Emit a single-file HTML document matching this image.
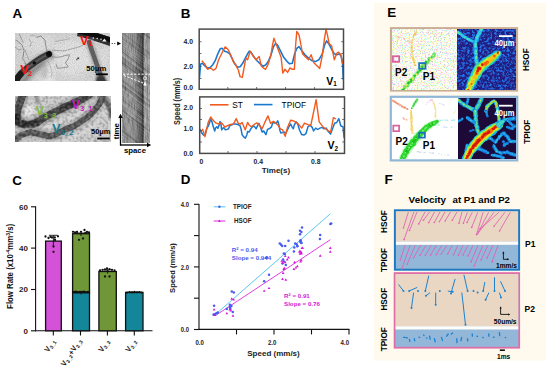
<!DOCTYPE html>
<html><head><meta charset="utf-8"><title>Figure</title>
<style>
html,body{margin:0;padding:0;background:#fff;width:550px;height:372px;overflow:hidden;font-family:"Liberation Sans",sans-serif;}
svg{display:block}
</style></head><body>
<svg width="550" height="372" viewBox="0 0 550 372">
<rect width="550" height="372" fill="#fff"/>

<defs>
  <filter id="gnoise" x="0" y="0" width="100%" height="100%">
    <feTurbulence type="fractalNoise" baseFrequency="0.9" numOctaves="2" seed="3" result="t"/>
    <feColorMatrix in="t" type="matrix" values="0 0 0 0 0  0 0 0 0 0  0 0 0 0 0  0 0 0 -1.2 0.75" />
  </filter>
  <filter id="gnoise2" x="0" y="0" width="100%" height="100%">
    <feTurbulence type="fractalNoise" baseFrequency="0.35" numOctaves="1" seed="8" result="t"/>
    <feColorMatrix in="t" type="matrix" values="0 0 0 0 1  0 0 0 0 1  0 0 0 0 1  0 0 0 -2.2 1.2" result="w"/>
    <feColorMatrix in="t" type="matrix" values="0 0 0 0 0  0 0 0 0 0  0 0 0 0 0  0 0 0 2.2 -1.0" result="k"/>
    <feMerge><feMergeNode in="w"/><feMergeNode in="k"/></feMerge>
    <feGaussianBlur stdDeviation="0.6"/>
  </filter>
  <filter id="b05" filterUnits="userSpaceOnUse" x="0" y="0" width="550" height="372"><feGaussianBlur stdDeviation="0.5"/></filter>
  <filter id="b1" filterUnits="userSpaceOnUse" x="0" y="0" width="550" height="372"><feGaussianBlur stdDeviation="1"/></filter>
  <filter id="b2" filterUnits="userSpaceOnUse" x="0" y="0" width="550" height="372"><feGaussianBlur stdDeviation="2"/></filter>
  <filter id="b3" filterUnits="userSpaceOnUse" x="0" y="0" width="550" height="372"><feGaussianBlur stdDeviation="3"/></filter>
  <filter id="kymo" x="0" y="0" width="100%" height="100%">
    <feTurbulence type="fractalNoise" baseFrequency="0.9 0.12" numOctaves="2" seed="5" result="t"/>
    <feColorMatrix in="t" type="matrix" values="0 0 0 0 0  0 0 0 0 0  0 0 0 0 0  0 0 0 -1.6 0.95" />
  </filter>
  <filter id="pastel" x="0" y="0" width="100%" height="100%" color-interpolation-filters="sRGB">
    <feTurbulence type="fractalNoise" baseFrequency="0.75" numOctaves="1" seed="11" result="t"/>
    <feColorMatrix type="matrix" values="4 0 0 0 -1.5  0 4 0 0 -1.5  0 0 4 0 -1.5  0 0 0 0 1"/>
    <feComponentTransfer>
      <feFuncR type="discrete" tableValues="0.8 0.93 1 1 1 1 1 1 1 1"/>
      <feFuncG type="discrete" tableValues="1 1 1 1 1 1 1 1 0.93 0.82"/>
      <feFuncB type="discrete" tableValues="0.75 0.92 1 1 1 1 1 1 1 0.85"/>
    </feComponentTransfer>
  </filter>
  <filter id="bluenoise" x="0" y="0" width="100%" height="100%" color-interpolation-filters="sRGB">
    <feTurbulence type="fractalNoise" baseFrequency="0.4" numOctaves="2" seed="21" result="t"/>
    <feColorMatrix in="t" type="matrix" values="0 0 0 0 0.13  0 0 0 0 0.45  0 0 0 0 0.93  4 0 0 0 -1.8" result="a"/>
    <feTurbulence type="fractalNoise" baseFrequency="0.5" numOctaves="1" seed="33" result="t2"/>
    <feColorMatrix in="t2" type="matrix" values="0 0 0 0 0.2  0 0 0 0 0.7  0 0 0 0 0.98  0 4 0 0 -2.6" result="b"/>
    <feMerge><feMergeNode in="a"/><feMergeNode in="b"/></feMerge>
  </filter>
  <clipPath id="cA1"><rect x="15" y="33" width="95" height="48"/></clipPath>
  <clipPath id="cA2"><rect x="15" y="96" width="96" height="46"/></clipPath>
  <clipPath id="cK"><rect x="122" y="33" width="28" height="110"/></clipPath>
  <clipPath id="cE1L"><rect x="392" y="29" width="65" height="61"/></clipPath>
  <clipPath id="cE1R"><rect x="457" y="29" width="59" height="61"/></clipPath>
  <clipPath id="cE2L"><rect x="392" y="98" width="66" height="61"/></clipPath>
  <clipPath id="cE2R"><rect x="458" y="98" width="58" height="61"/></clipPath>
  <clipPath id="cB1"><rect x="199" y="28.5" width="145" height="61"/></clipPath>
  <clipPath id="cB2"><rect x="199.5" y="96.5" width="145" height="57"/></clipPath>
</defs>

<text x="12.6" y="17.6" font-size="13.4" font-weight="bold" font-family="'Liberation Sans', sans-serif">A</text>
<text x="180.8" y="17.5" font-size="13.4" font-weight="bold" font-family="'Liberation Sans', sans-serif">B</text>
<text x="12.2" y="184.5" font-size="13.4" font-weight="bold" font-family="'Liberation Sans', sans-serif">C</text>
<text x="180.8" y="184.0" font-size="13.4" font-weight="bold" font-family="'Liberation Sans', sans-serif">D</text>
<g clip-path="url(#cA1)">
<rect x="15" y="33" width="95" height="48" fill="#d6d6d6"/>
<ellipse cx="72" cy="58" rx="20" ry="18" fill="#e4e4e4" filter="url(#b3)"/>
<ellipse cx="38" cy="44" rx="18" ry="9" fill="#e0e0e0" filter="url(#b3)"/>
<ellipse cx="104" cy="58" rx="5" ry="12" fill="#e0e0e0" filter="url(#b2)"/>
<ellipse cx="46" cy="80" rx="6" ry="4" fill="#f4f4f4" filter="url(#b2)"/>
<path d="M17,88 L24,78 L32,69 L40,62.5 L48,58" stroke="#8c8c8c" stroke-width="10" fill="none" stroke-linecap="round" filter="url(#b2)"/>
<path d="M15,84 L20,77 L28,68.5 L35,63 L42,58 L49,54.5" stroke="#a0a0a0" stroke-width="8" fill="none" stroke-linecap="round" filter="url(#b1)"/>
<path d="M49,57 L46,68 L44,80" stroke="#b8b8b8" stroke-width="4" fill="none" filter="url(#b2)"/>
<path d="M50,60 L51,70 L51,82" stroke="#ececec" stroke-width="5" fill="none" filter="url(#b2)"/>
<path d="M14,86 L17.4,78 L22,72.5 L28,67.5 L34.1,62.9 L41,58.3 L48.9,54.1" stroke="#3a3a3a" stroke-width="6.5" fill="none" stroke-linecap="round" filter="url(#b05)"/>
<path d="M22,72.5 L28,67.5 L34.1,62.9 L41,58.3 L46,55.5" stroke="#5a5a5a" stroke-width="2.2" fill="none" stroke-linecap="round" filter="url(#b05)"/>
<path d="M13,87 L17,79 L20.5,74" stroke="#1c1c1c" stroke-width="6" fill="none" stroke-linecap="round" filter="url(#b05)"/>
<circle cx="48.9" cy="54.1" r="2.8" fill="#0a0a0a" filter="url(#b05)"/>
<circle cx="34.3" cy="62.9" r="1.7" fill="#111" filter="url(#b05)"/>
<path d="M16,40 L22,44.8 L24,50.8 L22.7,58.8 L24.7,61.5 L26,66" stroke="#666" stroke-width="0.8" fill="none" opacity="0.80" filter="url(#b05)"/>
<path d="M19.4,34 L21,38 L23.4,42.7" stroke="#666" stroke-width="0.8" fill="none" opacity="0.60" filter="url(#b05)"/>
<path d="M28.8,38.7 L31.4,42.7 L30,47" stroke="#666" stroke-width="0.8" fill="none" opacity="0.50" filter="url(#b05)"/>
<path d="M36.8,37.4 L40.8,36 L44.9,40 L46.2,48.1 L47.6,52.1" stroke="#666" stroke-width="0.8" fill="none" opacity="0.80" filter="url(#b05)"/>
<path d="M24.7,49.4 L27.4,56.2 L29,60" stroke="#666" stroke-width="0.8" fill="none" opacity="0.50" filter="url(#b05)"/>
<path d="M15,47 L19,50 L22,49" stroke="#666" stroke-width="0.8" fill="none" opacity="0.50" filter="url(#b05)"/>
<path d="M52,56.8 L57,57.2 L61.4,56.8 L65,55.5 L69.5,54.8 L68.2,58.8 L65.5,62.9 L68.2,66.9 L63,67.8 L57.4,68.2 L56.1,64.2" stroke="#666" stroke-width="0.8" fill="none" opacity="0.75" filter="url(#b05)"/>
<path d="M52,50.1 L58,50.6 L64.1,50.8 L69,49.5 L74.9,48.1 L82.9,45.4" stroke="#666" stroke-width="0.8" fill="none" opacity="0.55" filter="url(#b05)"/>
<path d="M54.7,41.4 L60,40.5 L64.1,40 L70,38.5" stroke="#666" stroke-width="0.8" fill="none" opacity="0.40" filter="url(#b05)"/>
<path d="M47,60 L50,65 L52,72 L51,78" stroke="#666" stroke-width="0.8" fill="none" opacity="0.40" filter="url(#b05)"/>
<path d="M30,36 L34,35 L37,37" stroke="#666" stroke-width="0.8" fill="none" opacity="0.40" filter="url(#b05)"/>
<circle cx="78.2" cy="58.2" r="1" fill="#444" filter="url(#b05)"/>
<circle cx="76.9" cy="59.5" r="0.7" fill="#555" filter="url(#b05)"/>
<path d="M78,32 L90,35.2 L100,38.2 L112,42.2" stroke="#333" stroke-width="8.5" fill="none" filter="url(#b05)"/>
<path d="M78,31 L90,33.8 L100,36.6 L112,40.4" stroke="#111" stroke-width="5" fill="none" filter="url(#b05)"/>
<path d="M88.5,40 L91,48 L94.5,58 L98,68 L101,76 L103,84" stroke="#b4b4b4" stroke-width="7.5" fill="none" filter="url(#b1)"/>
<path d="M88.5,40 L91,48 L94.5,58 L98,68 L101,76 L103,84" stroke="#626262" stroke-width="4.6" fill="none" filter="url(#b05)"/>
<path d="M97,76 L104,76 L108,84 L95,84 Z" fill="#383838" filter="url(#b1)"/>
<circle cx="93.3" cy="37.9" r="0.75" fill="#fff"/>
<circle cx="97.2" cy="38.6" r="0.75" fill="#fff"/>
<circle cx="101.0" cy="39.3" r="0.75" fill="#fff"/>
<path d="M102.2,41.6 L106.6,41.6 L104.4,38.4 Z" fill="#fff"/>
<rect x="15" y="33" width="95" height="48" filter="url(#gnoise)" opacity="0.22"/>
</g>
<text x="80.1" y="44.7" font-size="12.5" font-weight="bold" fill="#ff1010" font-family="'Liberation Sans', sans-serif">V</text>
<text x="88.4" y="46.0" font-size="7.2" font-weight="bold" fill="#ff1010" font-family="'Liberation Sans', sans-serif">1</text>
<text x="20.3" y="73.9" font-size="12.5" font-weight="bold" fill="#ff1010" font-family="'Liberation Sans', sans-serif">V</text>
<text x="28.1" y="75.8" font-size="7.2" font-weight="bold" fill="#ff1010" font-family="'Liberation Sans', sans-serif">2</text>
<text x="86.2" y="71.4" font-size="8" font-weight="bold" fill="#000" textLength="20" lengthAdjust="spacingAndGlyphs" font-family="'Liberation Sans', sans-serif">50μm</text>
<rect x="95.8" y="73.4" width="12" height="1.8" fill="#000"/>
<circle cx="112.2" cy="43.5" r="0.55" fill="#000"/>
<circle cx="114.8" cy="43.5" r="0.55" fill="#000"/>
<path d="M117.2,41.4 L121,43.5 L117.2,45.6 Z" fill="#000"/>
<g clip-path="url(#cA2)">
<rect x="15" y="96" width="96" height="46" fill="#cdcdcd"/>
<ellipse cx="28" cy="111" rx="6.5" ry="6.5" fill="#ececec" filter="url(#b2)"/>
<ellipse cx="45" cy="100" rx="10" ry="3.5" fill="#d0d0d0" filter="url(#b2)"/>
<path d="M30,129 L45,127 L60,122 L75,115 L88,105 L95,97" stroke="#dcdcdc" stroke-width="5" fill="none" filter="url(#b2)"/>
<path d="M60,142 L75,136 L88,128 L98,118 L104,108" stroke="#d6d6d6" stroke-width="7" fill="none" filter="url(#b2)"/>
<ellipse cx="30" cy="141.5" rx="14" ry="2" fill="#dadada" filter="url(#b1)"/>
<ellipse cx="70" cy="99" rx="8" ry="3" fill="#d2d2d2" filter="url(#b2)"/>
<path d="M24,92 L21,100 L18,108 L16.5,116 L18,122 L24,124.5 L32,124.5 L38,122 L44,117.5 L50,114.5 L56,111.5 L63,108 L70,105 L78,101.5 L85,97.5 L91,93.5" stroke="#9a9a9a" stroke-width="11" fill="none" stroke-linejoin="round" stroke-linecap="round" filter="url(#b2)"/>
<path d="M24,92 L21,100 L18,108 L16.5,116 L18,122 L24,124.5 L32,124.5 L38,122 L44,117.5 L50,114.5 L56,111.5 L63,108 L70,105 L78,101.5 L85,97.5 L91,93.5" stroke="#464646" stroke-width="7.5" fill="none" stroke-linejoin="round" stroke-linecap="round" filter="url(#b05)"/>
<path d="M16.5,112 L16.5,116 L18,122 L24,124.5 L32,124.5 L38,122" stroke="#222" stroke-width="5.5" fill="none" filter="url(#b1)"/>
<path d="M60,109.5 L70,105 L80,100.5" stroke="#303030" stroke-width="4.5" fill="none" filter="url(#b1)"/>
<path d="M11,144 L20,135.5 L30.4,132.2 L41.3,134.4 L50,136.5 L57,134 L65,129.5 L75,125.6 L82,121 L88,116.6 L94,111 L98.6,105 L101.5,100 L103.7,94" stroke="#a0a0a0" stroke-width="9" fill="none" stroke-linejoin="round" filter="url(#b2)"/>
<path d="M11,144 L20,135.5 L30.4,132.2 L41.3,134.4 L50,136.5 L57,134 L65,129.5 L75,125.6 L82,121 L88,116.6 L94,111 L98.6,105 L101.5,100 L103.7,94" stroke="#545454" stroke-width="6" fill="none" stroke-linejoin="round" filter="url(#b05)"/>
<path d="M99,93 L104,98 L108,104 L110.5,110 L112,118" stroke="#5a5a5a" stroke-width="5" fill="none" filter="url(#b1)"/>
<path d="M36,94 L37,99 L38.5,104" stroke="#8a8a8a" stroke-width="3.5" fill="none" filter="url(#b1)"/>
<rect x="15" y="96" width="96" height="46" filter="url(#gnoise2)" opacity="0.3"/>
<rect x="15" y="96" width="96" height="46" filter="url(#gnoise)" opacity="0.12"/>
</g>
<text x="35.8" y="115.2" font-size="12.3" font-weight="bold" fill="#7cb83a" font-family="'Liberation Sans', sans-serif">V</text>
<text x="43.6" y="117.8" font-size="7.6" font-weight="bold" fill="#7cb83a" font-family="'Liberation Sans', sans-serif">3_3</text>
<text x="71.8" y="109.2" font-size="12.3" font-weight="bold" fill="#cc1cbc" font-family="'Liberation Sans', sans-serif">V</text>
<text x="80.0" y="111.2" font-size="7.6" font-weight="bold" fill="#cc1cbc" font-family="'Liberation Sans', sans-serif">3_1</text>
<text x="52.2" y="132.5" font-size="12.3" font-weight="bold" fill="#17798c" font-family="'Liberation Sans', sans-serif">V</text>
<text x="60.8" y="135.2" font-size="7.6" font-weight="bold" fill="#17798c" font-family="'Liberation Sans', sans-serif">3_2</text>
<text x="91.0" y="134.4" font-size="8" font-weight="bold" fill="#000" textLength="19.5" lengthAdjust="spacingAndGlyphs" font-family="'Liberation Sans', sans-serif">50μm</text>
<rect x="97.2" y="137.6" width="12.6" height="1.8" fill="#000"/>
<linearGradient id="kg" x1="122" y1="0" x2="150" y2="0" gradientUnits="userSpaceOnUse"><stop offset="0" stop-color="#8e8e8e"/><stop offset="0.3" stop-color="#999"/><stop offset="0.5" stop-color="#8a8a8a"/><stop offset="0.52" stop-color="#7a7a7a"/><stop offset="0.64" stop-color="#5e5e5e"/><stop offset="0.72" stop-color="#4e4e4e"/><stop offset="0.76" stop-color="#3e3e3e"/><stop offset="0.79" stop-color="#9c9c9c"/><stop offset="0.86" stop-color="#b4b4b4"/><stop offset="0.9" stop-color="#8c8c8c"/><stop offset="0.95" stop-color="#a8a8a8"/><stop offset="1" stop-color="#9a9a9a"/></linearGradient>
<g clip-path="url(#cK)">
<rect x="122" y="33" width="28" height="110" fill="url(#kg)"/>
<line x1="122" y1="-43.3" x2="150" y2="-22.3" stroke="#ffffff" stroke-width="0.5" opacity="0.19"/><line x1="122" y1="-40.6" x2="150" y2="-19.6" stroke="#ffffff" stroke-width="0.5" opacity="0.18"/><line x1="122" y1="-39.2" x2="150" y2="-18.2" stroke="#ffffff" stroke-width="0.7" opacity="0.12"/><line x1="122" y1="-37.7" x2="150" y2="-16.7" stroke="#000000" stroke-width="0.9" opacity="0.19"/><line x1="122" y1="-36.0" x2="150" y2="-15.0" stroke="#ffffff" stroke-width="0.8" opacity="0.24"/><line x1="122" y1="-34.2" x2="150" y2="-13.2" stroke="#000000" stroke-width="1.0" opacity="0.19"/><line x1="122" y1="-32.3" x2="150" y2="-11.3" stroke="#ffffff" stroke-width="0.6" opacity="0.16"/><line x1="122" y1="-30.3" x2="150" y2="-9.3" stroke="#ffffff" stroke-width="0.8" opacity="0.22"/><line x1="122" y1="-28.4" x2="150" y2="-7.4" stroke="#000000" stroke-width="0.7" opacity="0.24"/><line x1="122" y1="-25.8" x2="150" y2="-4.8" stroke="#ffffff" stroke-width="0.8" opacity="0.22"/><line x1="122" y1="-24.0" x2="150" y2="-3.0" stroke="#000000" stroke-width="0.7" opacity="0.19"/><line x1="122" y1="-22.0" x2="150" y2="-1.0" stroke="#ffffff" stroke-width="0.6" opacity="0.18"/><line x1="122" y1="-20.7" x2="150" y2="0.3" stroke="#ffffff" stroke-width="0.7" opacity="0.12"/><line x1="122" y1="-18.3" x2="150" y2="2.7" stroke="#ffffff" stroke-width="0.6" opacity="0.26"/><line x1="122" y1="-15.6" x2="150" y2="5.4" stroke="#ffffff" stroke-width="0.6" opacity="0.21"/><line x1="122" y1="-14.8" x2="150" y2="6.2" stroke="#ffffff" stroke-width="1.0" opacity="0.19"/><line x1="122" y1="-13.3" x2="150" y2="7.7" stroke="#000000" stroke-width="0.9" opacity="0.23"/><line x1="122" y1="-11.0" x2="150" y2="10.0" stroke="#000000" stroke-width="0.7" opacity="0.18"/><line x1="122" y1="-8.3" x2="150" y2="12.7" stroke="#ffffff" stroke-width="1.0" opacity="0.28"/><line x1="122" y1="-6.9" x2="150" y2="14.1" stroke="#000000" stroke-width="0.9" opacity="0.11"/><line x1="122" y1="-5.3" x2="150" y2="15.7" stroke="#000000" stroke-width="0.9" opacity="0.32"/><line x1="122" y1="-3.4" x2="150" y2="17.6" stroke="#ffffff" stroke-width="0.7" opacity="0.30"/><line x1="122" y1="-0.5" x2="150" y2="20.5" stroke="#ffffff" stroke-width="0.6" opacity="0.14"/><line x1="122" y1="-0.0" x2="150" y2="21.0" stroke="#ffffff" stroke-width="0.6" opacity="0.13"/><line x1="122" y1="2.4" x2="150" y2="23.4" stroke="#ffffff" stroke-width="0.7" opacity="0.12"/><line x1="122" y1="4.6" x2="150" y2="25.6" stroke="#ffffff" stroke-width="0.9" opacity="0.28"/><line x1="122" y1="6.0" x2="150" y2="27.0" stroke="#ffffff" stroke-width="0.8" opacity="0.32"/><line x1="122" y1="8.1" x2="150" y2="29.1" stroke="#ffffff" stroke-width="0.6" opacity="0.13"/><line x1="122" y1="9.8" x2="150" y2="30.8" stroke="#ffffff" stroke-width="0.9" opacity="0.10"/><line x1="122" y1="11.6" x2="150" y2="32.6" stroke="#ffffff" stroke-width="0.7" opacity="0.10"/><line x1="122" y1="13.8" x2="150" y2="34.8" stroke="#000000" stroke-width="0.6" opacity="0.17"/><line x1="122" y1="16.5" x2="150" y2="37.5" stroke="#000000" stroke-width="0.9" opacity="0.24"/><line x1="122" y1="17.7" x2="150" y2="38.7" stroke="#000000" stroke-width="0.7" opacity="0.28"/><line x1="122" y1="19.5" x2="150" y2="40.5" stroke="#ffffff" stroke-width="0.7" opacity="0.21"/><line x1="122" y1="21.1" x2="150" y2="42.1" stroke="#ffffff" stroke-width="0.6" opacity="0.20"/><line x1="122" y1="23.7" x2="150" y2="44.7" stroke="#ffffff" stroke-width="0.6" opacity="0.10"/><line x1="122" y1="24.8" x2="150" y2="45.8" stroke="#ffffff" stroke-width="0.5" opacity="0.24"/><line x1="122" y1="26.8" x2="150" y2="47.8" stroke="#ffffff" stroke-width="0.6" opacity="0.13"/><line x1="122" y1="29.0" x2="150" y2="50.0" stroke="#ffffff" stroke-width="0.6" opacity="0.20"/><line x1="122" y1="31.1" x2="150" y2="52.1" stroke="#ffffff" stroke-width="0.7" opacity="0.21"/><line x1="122" y1="32.4" x2="150" y2="53.4" stroke="#000000" stroke-width="0.6" opacity="0.18"/><line x1="122" y1="35.4" x2="150" y2="56.4" stroke="#ffffff" stroke-width="0.6" opacity="0.21"/><line x1="122" y1="37.5" x2="150" y2="58.5" stroke="#ffffff" stroke-width="0.8" opacity="0.13"/><line x1="122" y1="37.9" x2="150" y2="58.9" stroke="#000000" stroke-width="0.8" opacity="0.17"/><line x1="122" y1="39.9" x2="150" y2="60.9" stroke="#ffffff" stroke-width="1.0" opacity="0.21"/><line x1="122" y1="42.3" x2="150" y2="63.3" stroke="#ffffff" stroke-width="0.9" opacity="0.22"/><line x1="122" y1="44.1" x2="150" y2="65.1" stroke="#ffffff" stroke-width="0.9" opacity="0.23"/><line x1="122" y1="46.7" x2="150" y2="67.7" stroke="#ffffff" stroke-width="0.9" opacity="0.28"/><line x1="122" y1="48.6" x2="150" y2="69.6" stroke="#ffffff" stroke-width="0.7" opacity="0.14"/><line x1="122" y1="50.5" x2="150" y2="71.5" stroke="#ffffff" stroke-width="0.7" opacity="0.27"/><line x1="122" y1="51.5" x2="150" y2="72.5" stroke="#000000" stroke-width="0.7" opacity="0.31"/><line x1="122" y1="54.6" x2="150" y2="75.6" stroke="#ffffff" stroke-width="0.7" opacity="0.31"/><line x1="122" y1="55.4" x2="150" y2="76.4" stroke="#ffffff" stroke-width="0.7" opacity="0.20"/><line x1="122" y1="57.7" x2="150" y2="78.7" stroke="#000000" stroke-width="0.7" opacity="0.28"/><line x1="122" y1="59.8" x2="150" y2="80.8" stroke="#000000" stroke-width="0.8" opacity="0.12"/><line x1="122" y1="62.2" x2="150" y2="83.2" stroke="#000000" stroke-width="0.7" opacity="0.27"/><line x1="122" y1="62.9" x2="150" y2="83.9" stroke="#000000" stroke-width="0.9" opacity="0.17"/><line x1="122" y1="66.1" x2="150" y2="87.1" stroke="#ffffff" stroke-width="0.9" opacity="0.20"/><line x1="122" y1="66.5" x2="150" y2="87.5" stroke="#ffffff" stroke-width="0.6" opacity="0.14"/><line x1="122" y1="68.5" x2="150" y2="89.5" stroke="#ffffff" stroke-width="0.6" opacity="0.28"/><line x1="122" y1="71.5" x2="150" y2="92.5" stroke="#ffffff" stroke-width="0.7" opacity="0.24"/><line x1="122" y1="73.0" x2="150" y2="94.0" stroke="#ffffff" stroke-width="0.9" opacity="0.10"/><line x1="122" y1="75.2" x2="150" y2="96.2" stroke="#ffffff" stroke-width="1.0" opacity="0.22"/><line x1="122" y1="76.6" x2="150" y2="97.6" stroke="#ffffff" stroke-width="0.6" opacity="0.28"/><line x1="122" y1="78.2" x2="150" y2="99.2" stroke="#ffffff" stroke-width="0.9" opacity="0.21"/><line x1="122" y1="80.2" x2="150" y2="101.2" stroke="#000000" stroke-width="0.6" opacity="0.19"/><line x1="122" y1="83.1" x2="150" y2="104.1" stroke="#ffffff" stroke-width="0.8" opacity="0.30"/><line x1="122" y1="84.8" x2="150" y2="105.8" stroke="#000000" stroke-width="1.0" opacity="0.19"/><line x1="122" y1="86.2" x2="150" y2="107.2" stroke="#000000" stroke-width="0.8" opacity="0.13"/><line x1="122" y1="88.7" x2="150" y2="109.7" stroke="#ffffff" stroke-width="0.9" opacity="0.23"/><line x1="122" y1="89.4" x2="150" y2="110.4" stroke="#ffffff" stroke-width="0.9" opacity="0.20"/><line x1="122" y1="92.0" x2="150" y2="113.0" stroke="#ffffff" stroke-width="0.8" opacity="0.25"/><line x1="122" y1="93.8" x2="150" y2="114.8" stroke="#ffffff" stroke-width="0.5" opacity="0.29"/><line x1="122" y1="95.2" x2="150" y2="116.2" stroke="#ffffff" stroke-width="0.8" opacity="0.27"/><line x1="122" y1="97.7" x2="150" y2="118.7" stroke="#ffffff" stroke-width="0.8" opacity="0.20"/><line x1="122" y1="99.5" x2="150" y2="120.5" stroke="#000000" stroke-width="0.6" opacity="0.14"/><line x1="122" y1="101.4" x2="150" y2="122.4" stroke="#ffffff" stroke-width="0.6" opacity="0.21"/><line x1="122" y1="103.3" x2="150" y2="124.3" stroke="#ffffff" stroke-width="0.9" opacity="0.30"/><line x1="122" y1="104.7" x2="150" y2="125.7" stroke="#ffffff" stroke-width="0.6" opacity="0.13"/><line x1="122" y1="107.0" x2="150" y2="128.0" stroke="#ffffff" stroke-width="0.7" opacity="0.25"/><line x1="122" y1="108.5" x2="150" y2="129.5" stroke="#ffffff" stroke-width="0.9" opacity="0.27"/><line x1="122" y1="110.3" x2="150" y2="131.3" stroke="#000000" stroke-width="0.7" opacity="0.24"/><line x1="122" y1="112.4" x2="150" y2="133.4" stroke="#ffffff" stroke-width="0.6" opacity="0.31"/><line x1="122" y1="115.4" x2="150" y2="136.4" stroke="#ffffff" stroke-width="0.6" opacity="0.29"/><line x1="122" y1="116.9" x2="150" y2="137.9" stroke="#ffffff" stroke-width="0.7" opacity="0.14"/><line x1="122" y1="118.5" x2="150" y2="139.5" stroke="#ffffff" stroke-width="0.7" opacity="0.19"/><line x1="122" y1="119.7" x2="150" y2="140.7" stroke="#ffffff" stroke-width="0.8" opacity="0.10"/><line x1="122" y1="122.2" x2="150" y2="143.2" stroke="#ffffff" stroke-width="0.8" opacity="0.18"/><line x1="122" y1="123.9" x2="150" y2="144.9" stroke="#ffffff" stroke-width="1.0" opacity="0.12"/><line x1="122" y1="125.7" x2="150" y2="146.7" stroke="#ffffff" stroke-width="0.6" opacity="0.12"/><line x1="122" y1="128.6" x2="150" y2="149.6" stroke="#ffffff" stroke-width="0.6" opacity="0.16"/><line x1="122" y1="129.8" x2="150" y2="150.8" stroke="#000000" stroke-width="0.6" opacity="0.28"/><line x1="122" y1="131.2" x2="150" y2="152.2" stroke="#000000" stroke-width="0.9" opacity="0.23"/><line x1="122" y1="133.0" x2="150" y2="154.0" stroke="#ffffff" stroke-width="0.6" opacity="0.28"/><line x1="122" y1="136.2" x2="150" y2="157.2" stroke="#ffffff" stroke-width="0.8" opacity="0.31"/><line x1="122" y1="138.0" x2="150" y2="159.0" stroke="#ffffff" stroke-width="0.6" opacity="0.23"/><line x1="122" y1="139.0" x2="150" y2="160.0" stroke="#ffffff" stroke-width="0.7" opacity="0.20"/><line x1="122" y1="141.4" x2="150" y2="162.4" stroke="#ffffff" stroke-width="0.5" opacity="0.24"/><line x1="122" y1="143.5" x2="150" y2="164.5" stroke="#ffffff" stroke-width="0.6" opacity="0.31"/><line x1="122" y1="144.6" x2="150" y2="165.6" stroke="#ffffff" stroke-width="0.8" opacity="0.24"/><line x1="122" y1="146.5" x2="150" y2="167.5" stroke="#ffffff" stroke-width="0.6" opacity="0.21"/><line x1="122" y1="148.7" x2="150" y2="169.7" stroke="#ffffff" stroke-width="0.5" opacity="0.32"/><line x1="122" y1="150.0" x2="150" y2="171.0" stroke="#000000" stroke-width="0.6" opacity="0.22"/><line x1="122" y1="152.7" x2="150" y2="173.7" stroke="#ffffff" stroke-width="0.9" opacity="0.12"/><line x1="122" y1="154.5" x2="150" y2="175.5" stroke="#ffffff" stroke-width="0.9" opacity="0.22"/><line x1="122" y1="157.3" x2="150" y2="178.3" stroke="#ffffff" stroke-width="1.0" opacity="0.25"/><line x1="122" y1="158.1" x2="150" y2="179.1" stroke="#000000" stroke-width="0.6" opacity="0.26"/><line x1="122" y1="161.1" x2="150" y2="182.1" stroke="#ffffff" stroke-width="0.5" opacity="0.28"/><line x1="122" y1="162.4" x2="150" y2="183.4" stroke="#ffffff" stroke-width="0.5" opacity="0.19"/><line x1="122" y1="164.4" x2="150" y2="185.4" stroke="#ffffff" stroke-width="0.8" opacity="0.29"/><line x1="122" y1="165.7" x2="150" y2="186.7" stroke="#ffffff" stroke-width="0.5" opacity="0.25"/><line x1="122" y1="167.4" x2="150" y2="188.4" stroke="#ffffff" stroke-width="0.6" opacity="0.20"/><line x1="122" y1="170.5" x2="150" y2="191.5" stroke="#000000" stroke-width="0.5" opacity="0.17"/><line x1="122" y1="172.3" x2="150" y2="193.3" stroke="#ffffff" stroke-width="0.5" opacity="0.18"/><line x1="122" y1="173.4" x2="150" y2="194.4" stroke="#ffffff" stroke-width="0.8" opacity="0.16"/><line x1="122" y1="175.1" x2="150" y2="196.1" stroke="#ffffff" stroke-width="0.9" opacity="0.12"/><line x1="122" y1="176.8" x2="150" y2="197.8" stroke="#000000" stroke-width="0.5" opacity="0.11"/><line x1="122" y1="179.0" x2="150" y2="200.0" stroke="#ffffff" stroke-width="1.0" opacity="0.12"/><line x1="122" y1="181.8" x2="150" y2="202.8" stroke="#ffffff" stroke-width="0.9" opacity="0.24"/><line x1="122" y1="183.7" x2="150" y2="204.7" stroke="#ffffff" stroke-width="0.9" opacity="0.27"/>
<rect x="122" y="33" width="28" height="110" filter="url(#kymo)" opacity="0.4"/>
<line x1="142.5" y1="33" x2="142.5" y2="143" stroke="#2a2a2a" stroke-width="0.8" opacity="0.6"/>
<line x1="147" y1="33" x2="147" y2="143" stroke="#707070" stroke-width="0.6" opacity="0.6"/>
</g>
<line x1="123" y1="74.2" x2="150" y2="74.2" stroke="#fff" stroke-width="1" stroke-dasharray="2.2,1.5"/>
<line x1="124" y1="75.5" x2="143" y2="83" stroke="#fff" stroke-width="1" stroke-dasharray="2.2,1.5"/>
<circle cx="145" cy="78.3" r="1.6" fill="none" stroke="#fff" stroke-width="0.7"/>
<path d="M143.2,85.5 L146.8,85.5 L145,81.5 Z" fill="#fff"/>
<line x1="120.5" y1="117" x2="120.5" y2="145.5" stroke="#000" stroke-width="1.3"/>
<path d="M118.3,118 L122.7,118 L120.5,113.8 Z" fill="#000"/>
<line x1="120" y1="145" x2="148" y2="145" stroke="#000" stroke-width="1.3"/>
<path d="M147,142.8 L147,147.2 L151.2,145 Z" fill="#000"/>
<text x="124" y="153.4" font-size="7.9" font-weight="bold" textLength="22" lengthAdjust="spacingAndGlyphs" font-family="'Liberation Sans', sans-serif">space</text>
<text transform="translate(118.5,139.2) rotate(-90)" font-size="7.9" font-weight="bold" textLength="16.2" lengthAdjust="spacingAndGlyphs" font-family="'Liberation Sans', sans-serif">time</text>
<g clip-path="url(#cB1)"><polyline points="199.4,77.9 200.6,64.1 202.3,63.3 204.9,65.9 207.5,68.1 210.0,67.6 212.6,65.0 215.2,60.7 217.8,53.8 220.3,48.7 222.0,48.3 224.6,51.2 227.2,52.1 229.8,53.8 232.4,59.0 234.9,64.1 237.5,67.2 240.1,66.7 242.7,63.3 245.3,58.1 247.6,53.8 249.3,51.2 251.0,52.1 253.6,56.4 257.0,60.7 260.5,64.1 263.0,66.2 265.6,65.0 268.2,61.6 270.8,55.5 273.4,46.9 275.6,43.5 277.6,45.2 280.2,50.4 283.7,57.3 287.1,61.6 289.7,63.8 292.3,63.3 294.7,53.8 296.8,48.3 299.0,46.6 301.6,50.4 305.0,54.7 308.5,58.1 311.9,60.7 315.4,61.6 318.8,59.8 322.3,53.8 324.8,44.4 326.6,40.9 329.1,44.4 331.7,49.5 334.3,53.8 336.9,54.7 339.5,53.8 341.2,56.4 342.6,64.1 343.3,79.6" fill="none" stroke="#1a78cf" stroke-width="1.6" stroke-linejoin="round"/>
<polyline points="201.8,60.7 204.9,64.1 207.5,69.3 210.4,67.9 213.5,70.2 216.0,68.4 218.6,59.8 222.0,53.0 225.1,46.9 228.1,49.5 230.6,54.7 233.2,61.6 235.8,65.0 238.4,70.2 240.1,76.7 242.3,77.4 243.5,71.0 245.8,58.1 247.6,59.8 250.2,51.2 252.7,55.5 256.2,59.8 259.1,56.4 261.3,65.9 263.9,68.4 265.6,69.3 268.2,64.1 270.8,55.5 272.5,45.2 273.9,38.3 275.9,43.5 278.5,50.4 281.1,57.3 282.8,73.1 284.9,69.3 287.6,72.4 290.0,67.9 292.3,69.3 294.4,69.3 295.6,45.2 296.8,31.4 299.0,34.9 300.7,43.5 302.5,53.8 305.0,56.4 308.5,59.8 311.1,54.7 313.7,62.4 316.2,65.0 319.7,68.4 322.3,55.5 324.5,38.3 326.0,29.4 327.4,34.9 329.1,43.5 331.7,46.1 334.3,59.8 336.9,53.0 338.6,52.1 340.8,54.7 342.9,64.1" fill="none" stroke="#f25a1e" stroke-width="1.4" stroke-linejoin="round"/></g>
<g clip-path="url(#cB2)"><polyline points="199.3,130.4 200.4,129.9 201.8,133.1 203.4,135.0 205.0,135.3 206.6,128.8 208.2,126.1 209.3,123.4 210.7,119.1 212.0,121.8 213.1,126.1 214.7,131.0 215.7,127.7 216.8,126.7 217.9,128.3 219.0,125.6 220.0,121.6 220.8,122.9 221.7,129.9 222.7,128.3 223.8,127.7 225.4,129.9 227.0,129.4 228.6,128.8 229.7,125.6 231.3,125.1 233.5,124.0 235.6,124.0 237.8,124.5 239.9,125.6 241.0,128.8 242.1,134.7 243.7,136.9 245.3,138.2 246.9,134.7 247.6,131.5 249.2,132.0 250.8,128.8 252.5,126.7 254.1,126.1 256.2,128.8 257.8,125.1 258.9,123.4 260.5,127.2 262.1,132.0 263.7,131.0 265.9,134.7 267.5,129.4 269.1,128.8 271.3,127.2 272.9,122.4 274.8,122.9 276.1,123.4 277.7,120.8 278.8,124.5 279.9,130.4 280.9,133.1 282.6,132.6 284.2,132.0 285.8,133.1 287.4,129.9 289.0,126.7 290.6,124.0 292.2,127.2 293.3,128.8 294.2,125.1 296.1,121.8 297.5,123.2 299.6,130.2 301.7,134.6 303.8,135.1 305.9,133.7 308.0,126.7 310.1,125.3 312.2,127.4 313.6,130.9 315.7,128.1 317.8,129.5 319.9,128.1 322.0,127.4 324.1,128.8 326.2,128.1 328.3,131.6 330.6,134.1 332.5,128.8 334.6,123.2 336.7,122.5 338.8,118.7 340.9,126.0 343.0,126.7 344.1,137.9" fill="none" stroke="#1a78cf" stroke-width="1.5" stroke-linejoin="round"/>
<polyline points="202.3,128.8 203.9,133.1 205.0,136.7 206.6,129.4 208.2,122.4 210.7,117.0 213.1,120.2 215.7,122.9 219.0,124.0 221.7,122.9 224.9,127.2 227.6,125.6 230.3,124.5 233.5,124.0 236.2,118.6 238.3,123.4 240.5,124.0 242.1,122.4 245.3,129.9 247.6,122.4 249.2,125.1 251.4,126.7 254.1,124.5 256.8,122.9 258.9,124.5 262.1,128.8 264.8,122.4 268.0,115.9 270.7,123.4 273.4,121.3 276.1,123.4 278.3,125.6 280.4,128.8 282.6,129.9 285.2,136.3 287.4,127.7 290.6,120.2 293.3,120.8 294.0,121.1 298.2,123.9 301.7,128.1 304.5,123.2 308.0,124.6 310.8,125.3 313.6,112.0 316.1,99.7 319.2,121.8 323.4,127.4 327.6,130.2 330.6,132.3 333.4,117.6 336.0,119.0" fill="none" stroke="#f25a1e" stroke-width="1.4" stroke-linejoin="round"/></g>
<rect x="199.2" y="29.1" width="144.3" height="60.2" fill="none" stroke="#4a4a4a" stroke-width="1.5"/>
<rect x="199.7" y="96.9" width="144.8" height="56.5" fill="none" stroke="#4a4a4a" stroke-width="1.5"/>
<line x1="199.2" y1="41.7" x2="201.5" y2="41.7" stroke="#4a4a4a" stroke-width="0.8"/>
<line x1="341.2" y1="41.7" x2="343.5" y2="41.7" stroke="#4a4a4a" stroke-width="0.8"/>
<line x1="199.2" y1="53.5" x2="201.5" y2="53.5" stroke="#4a4a4a" stroke-width="0.8"/>
<line x1="341.2" y1="53.5" x2="343.5" y2="53.5" stroke="#4a4a4a" stroke-width="0.8"/>
<line x1="199.2" y1="66.4" x2="201.5" y2="66.4" stroke="#4a4a4a" stroke-width="0.8"/>
<line x1="341.2" y1="66.4" x2="343.5" y2="66.4" stroke="#4a4a4a" stroke-width="0.8"/>
<line x1="199.2" y1="78.5" x2="201.5" y2="78.5" stroke="#4a4a4a" stroke-width="0.8"/>
<line x1="341.2" y1="78.5" x2="343.5" y2="78.5" stroke="#4a4a4a" stroke-width="0.8"/>
<line x1="227.8" y1="89.3" x2="227.8" y2="87" stroke="#4a4a4a" stroke-width="0.8"/>
<line x1="256.6" y1="89.3" x2="256.6" y2="87" stroke="#4a4a4a" stroke-width="0.8"/>
<line x1="285.5" y1="89.3" x2="285.5" y2="87" stroke="#4a4a4a" stroke-width="0.8"/>
<line x1="314.6" y1="89.3" x2="314.6" y2="87" stroke="#4a4a4a" stroke-width="0.8"/>
<line x1="199.7" y1="108.5" x2="202" y2="108.5" stroke="#4a4a4a" stroke-width="0.8"/>
<line x1="342.2" y1="108.5" x2="344.5" y2="108.5" stroke="#4a4a4a" stroke-width="0.8"/>
<line x1="199.7" y1="119.5" x2="202" y2="119.5" stroke="#4a4a4a" stroke-width="0.8"/>
<line x1="342.2" y1="119.5" x2="344.5" y2="119.5" stroke="#4a4a4a" stroke-width="0.8"/>
<line x1="199.7" y1="130.5" x2="202" y2="130.5" stroke="#4a4a4a" stroke-width="0.8"/>
<line x1="342.2" y1="130.5" x2="344.5" y2="130.5" stroke="#4a4a4a" stroke-width="0.8"/>
<line x1="199.7" y1="142.0" x2="202" y2="142.0" stroke="#4a4a4a" stroke-width="0.8"/>
<line x1="342.2" y1="142.0" x2="344.5" y2="142.0" stroke="#4a4a4a" stroke-width="0.8"/>
<line x1="228.0" y1="153.4" x2="228.0" y2="151" stroke="#4a4a4a" stroke-width="0.8"/>
<line x1="257.0" y1="153.4" x2="257.0" y2="151" stroke="#4a4a4a" stroke-width="0.8"/>
<line x1="286.0" y1="153.4" x2="286.0" y2="151" stroke="#4a4a4a" stroke-width="0.8"/>
<line x1="315.0" y1="153.4" x2="315.0" y2="151" stroke="#4a4a4a" stroke-width="0.8"/>
<text x="193.0" y="44.0" font-size="6.8" font-weight="bold" text-anchor="end" fill="#222" font-family="'Liberation Sans', sans-serif">4.0</text>
<text x="193.0" y="69.0" font-size="6.8" font-weight="bold" text-anchor="end" fill="#222" font-family="'Liberation Sans', sans-serif">2.0</text>
<text x="193.0" y="90.0" font-size="6.8" font-weight="bold" text-anchor="end" fill="#222" font-family="'Liberation Sans', sans-serif">0.0</text>
<text x="193.0" y="110.2" font-size="6.8" font-weight="bold" text-anchor="end" fill="#222" font-family="'Liberation Sans', sans-serif">2.0</text>
<text x="193.0" y="130.8" font-size="6.8" font-weight="bold" text-anchor="end" fill="#222" font-family="'Liberation Sans', sans-serif">1.0</text>
<text x="193.0" y="156.2" font-size="6.8" font-weight="bold" text-anchor="end" fill="#222" font-family="'Liberation Sans', sans-serif">0.0</text>
<text x="201.5" y="164.4" font-size="6.8" font-weight="bold" text-anchor="middle" fill="#222" font-family="'Liberation Sans', sans-serif">0</text>
<text x="258.3" y="164.4" font-size="6.8" font-weight="bold" text-anchor="middle" fill="#222" font-family="'Liberation Sans', sans-serif">0.4</text>
<text x="315.7" y="164.4" font-size="6.8" font-weight="bold" text-anchor="middle" fill="#222" font-family="'Liberation Sans', sans-serif">0.8</text>
<text x="276" y="173.4" font-size="8" font-weight="bold" text-anchor="middle" fill="#222" font-family="'Liberation Sans', sans-serif">Time(s)</text>
<text transform="translate(180.2,101.4) rotate(-90)" font-size="8.4" font-weight="bold" text-anchor="middle" textLength="47" lengthAdjust="spacingAndGlyphs" fill="#222" font-family="'Liberation Sans', sans-serif">Speed (mm/s)</text>
<text x="326.3" y="84.8" font-size="10.5" font-weight="bold" font-family="'Liberation Sans', sans-serif">V</text>
<text x="333.3" y="86.3" font-size="6.3" font-weight="bold" font-family="'Liberation Sans', sans-serif">1</text>
<text x="327.6" y="149" font-size="10.5" font-weight="bold" font-family="'Liberation Sans', sans-serif">V</text>
<text x="334.6" y="150.5" font-size="6.3" font-weight="bold" font-family="'Liberation Sans', sans-serif">2</text>
<line x1="210" y1="104.8" x2="228.5" y2="104.8" stroke="#f25a1e" stroke-width="1.6"/>
<text x="232.3" y="107.8" font-size="8.3" font-family="'Liberation Sans', sans-serif">ST</text>
<line x1="254" y1="104.6" x2="272.5" y2="104.6" stroke="#1a78cf" stroke-width="1.6"/>
<text x="281.6" y="107.7" font-size="8.3" font-family="'Liberation Sans', sans-serif">TPIOF</text>
<line x1="35.6" y1="206.3" x2="35.6" y2="331.3" stroke="#111" stroke-width="1.1"/>
<line x1="35" y1="330.8" x2="152.5" y2="330.8" stroke="#111" stroke-width="1.1"/>
<line x1="31" y1="330.8" x2="35.6" y2="330.8" stroke="#111" stroke-width="1.1"/>
<text x="28.0" y="333.7" font-size="8.0" font-weight="bold" text-anchor="end" fill="#2a221c" font-family="'Liberation Sans', sans-serif">0</text>
<line x1="31" y1="289.5" x2="35.6" y2="289.5" stroke="#111" stroke-width="1.1"/>
<text x="28.0" y="292.4" font-size="8.0" font-weight="bold" text-anchor="end" fill="#2a221c" font-family="'Liberation Sans', sans-serif">20</text>
<line x1="31" y1="248.1" x2="35.6" y2="248.1" stroke="#111" stroke-width="1.1"/>
<text x="28.0" y="251.0" font-size="8.0" font-weight="bold" text-anchor="end" fill="#2a221c" font-family="'Liberation Sans', sans-serif">40</text>
<line x1="31" y1="206.8" x2="35.6" y2="206.8" stroke="#111" stroke-width="1.1"/>
<text x="28.0" y="209.7" font-size="8.0" font-weight="bold" text-anchor="end" fill="#2a221c" font-family="'Liberation Sans', sans-serif">60</text>
<line x1="53.3" y1="330.8" x2="53.3" y2="335.5" stroke="#111" stroke-width="1.1"/>
<line x1="80.5" y1="330.8" x2="80.5" y2="335.5" stroke="#111" stroke-width="1.1"/>
<line x1="107.4" y1="330.8" x2="107.4" y2="335.5" stroke="#111" stroke-width="1.1"/>
<line x1="134.3" y1="330.8" x2="134.3" y2="335.5" stroke="#111" stroke-width="1.1"/>
<rect x="45.6" y="241.1" width="15.7" height="89.7" fill="#d452d8" stroke="#111" stroke-width="1.3"/>
<rect x="72.6" y="233.7" width="16.9" height="59.1" fill="#6f9637" stroke="#111" stroke-width="1.3"/>
<rect x="72.6" y="292.8" width="16.9" height="38.0" fill="#13869a" stroke="#111" stroke-width="1.3"/>
<rect x="98.9" y="271.5" width="17.4" height="59.3" fill="#6f9637" stroke="#111" stroke-width="1.3"/>
<rect x="125.6" y="292.4" width="17.4" height="38.4" fill="#13869a" stroke="#111" stroke-width="1.3"/>
<line x1="53.4" y1="235.3" x2="53.4" y2="247.0" stroke="#111" stroke-width="0.9"/>
<line x1="48.9" y1="235.3" x2="57.9" y2="235.3" stroke="#111" stroke-width="0.9"/>
<circle cx="45.5" cy="236.5" r="1.15" fill="#111"/>
<circle cx="48.5" cy="238.0" r="1.15" fill="#111"/>
<circle cx="52.0" cy="237.5" r="1.15" fill="#111"/>
<circle cx="54.8" cy="237.5" r="1.15" fill="#111"/>
<circle cx="55.0" cy="240.0" r="1.15" fill="#111"/>
<circle cx="53.5" cy="246.5" r="1.15" fill="#111"/>
<circle cx="53.5" cy="251.8" r="1.15" fill="#111"/>
<circle cx="58.0" cy="236.3" r="1.15" fill="#111"/>
<circle cx="50.5" cy="236.8" r="1.15" fill="#111"/>
<line x1="81.0" y1="233.0" x2="81.0" y2="236.0" stroke="#111" stroke-width="0.9"/>
<line x1="76.5" y1="233.0" x2="85.5" y2="233.0" stroke="#111" stroke-width="0.9"/>
<circle cx="73.0" cy="231.8" r="1.15" fill="#111"/>
<circle cx="77.0" cy="232.0" r="1.15" fill="#111"/>
<circle cx="81.0" cy="231.8" r="1.15" fill="#111"/>
<circle cx="84.5" cy="230.0" r="1.15" fill="#111"/>
<circle cx="87.0" cy="232.0" r="1.15" fill="#111"/>
<circle cx="89.0" cy="232.5" r="1.15" fill="#111"/>
<circle cx="79.0" cy="239.8" r="1.15" fill="#111"/>
<circle cx="83.0" cy="238.5" r="1.15" fill="#111"/>
<circle cx="75.0" cy="232.5" r="1.15" fill="#111"/>
<circle cx="85.5" cy="232.8" r="1.15" fill="#111"/>
<line x1="81.0" y1="292.3" x2="81.0" y2="294.5" stroke="#111" stroke-width="0.9"/>
<line x1="76.0" y1="292.3" x2="86.0" y2="292.3" stroke="#111" stroke-width="0.9"/>
<circle cx="74.0" cy="292.0" r="1.15" fill="#111"/>
<circle cx="76.0" cy="291.6" r="1.15" fill="#111"/>
<circle cx="78.0" cy="292.2" r="1.15" fill="#111"/>
<circle cx="80.0" cy="291.8" r="1.15" fill="#111"/>
<circle cx="82.0" cy="292.0" r="1.15" fill="#111"/>
<circle cx="84.0" cy="291.6" r="1.15" fill="#111"/>
<circle cx="86.0" cy="292.2" r="1.15" fill="#111"/>
<circle cx="88.0" cy="292.0" r="1.15" fill="#111"/>
<line x1="107.6" y1="269.8" x2="107.6" y2="273.5" stroke="#111" stroke-width="0.9"/>
<line x1="103.1" y1="269.8" x2="112.1" y2="269.8" stroke="#111" stroke-width="0.9"/>
<circle cx="100.0" cy="270.3" r="1.15" fill="#111"/>
<circle cx="102.5" cy="269.8" r="1.15" fill="#111"/>
<circle cx="105.0" cy="269.5" r="1.15" fill="#111"/>
<circle cx="107.0" cy="268.5" r="1.15" fill="#111"/>
<circle cx="109.5" cy="269.2" r="1.15" fill="#111"/>
<circle cx="112.0" cy="269.8" r="1.15" fill="#111"/>
<circle cx="114.5" cy="270.3" r="1.15" fill="#111"/>
<circle cx="105.0" cy="276.5" r="1.15" fill="#111"/>
<circle cx="109.5" cy="276.5" r="1.15" fill="#111"/>
<circle cx="107.5" cy="271.0" r="1.15" fill="#111"/>
<line x1="134.3" y1="292.2" x2="134.3" y2="293.5" stroke="#111" stroke-width="0.9"/>
<line x1="129.3" y1="292.2" x2="139.3" y2="292.2" stroke="#111" stroke-width="0.9"/>
<circle cx="127.0" cy="292.6" r="1.15" fill="#111"/>
<circle cx="129.5" cy="292.2" r="1.15" fill="#111"/>
<circle cx="132.0" cy="292.4" r="1.15" fill="#111"/>
<circle cx="134.5" cy="292.0" r="1.15" fill="#111"/>
<circle cx="137.0" cy="292.3" r="1.15" fill="#111"/>
<circle cx="139.5" cy="292.1" r="1.15" fill="#111"/>
<circle cx="141.5" cy="292.6" r="1.15" fill="#111"/>
<text transform="translate(13.0,266.4) rotate(-90)" font-size="8.6" font-weight="bold" text-anchor="middle" textLength="85" lengthAdjust="spacingAndGlyphs" fill="#111" font-family="'Liberation Sans', sans-serif">Flow Rate (x10<tspan font-size="5.6" dy="-3.4">-4</tspan><tspan dy="3.4">mm</tspan><tspan font-size="5.6" dy="-3.4">3</tspan><tspan dy="3.4">/s)</tspan></text>
<text transform="translate(55.6,341.4) rotate(-57)" font-size="7.6" font-weight="bold" text-anchor="end" fill="#111" font-family="'Liberation Sans', sans-serif">V<tspan font-size="5" dy="1.4">3_1</tspan></text>
<text transform="translate(81.9,340.8) rotate(-57)" font-size="7.6" font-weight="bold" text-anchor="end" fill="#111" font-family="'Liberation Sans', sans-serif">V<tspan font-size="5" dy="1.4">3_2</tspan><tspan dy="-1.4">+V</tspan><tspan font-size="5" dy="1.4">3_3</tspan></text>
<text transform="translate(109.6,341.4) rotate(-57)" font-size="7.6" font-weight="bold" text-anchor="end" fill="#111" font-family="'Liberation Sans', sans-serif">V<tspan font-size="5" dy="1.4">3_3</tspan></text>
<text transform="translate(136.5,341.4) rotate(-57)" font-size="7.6" font-weight="bold" text-anchor="end" fill="#111" font-family="'Liberation Sans', sans-serif">V<tspan font-size="5" dy="1.4">3_2</tspan></text>
<line x1="199" y1="203.9" x2="199" y2="329.9" stroke="#111" stroke-width="1.1"/>
<line x1="198.5" y1="329.4" x2="349.5" y2="329.4" stroke="#111" stroke-width="1.1"/>
<line x1="194" y1="298.2" x2="199" y2="298.2" stroke="#111" stroke-width="1.1"/>
<line x1="194" y1="266.9" x2="199" y2="266.9" stroke="#111" stroke-width="1.1"/>
<line x1="194" y1="235.6" x2="199" y2="235.6" stroke="#111" stroke-width="1.1"/>
<line x1="194" y1="204.3" x2="199" y2="204.3" stroke="#111" stroke-width="1.1"/>
<line x1="194" y1="329.5" x2="199" y2="329.5" stroke="#111" stroke-width="1.1"/>
<line x1="236.5" y1="329.4" x2="236.5" y2="334.4" stroke="#111" stroke-width="1.1"/>
<line x1="274.0" y1="329.4" x2="274.0" y2="334.4" stroke="#111" stroke-width="1.1"/>
<line x1="311.5" y1="329.4" x2="311.5" y2="334.4" stroke="#111" stroke-width="1.1"/>
<line x1="349.0" y1="329.4" x2="349.0" y2="334.4" stroke="#111" stroke-width="1.1"/>
<text x="180.8" y="207.0" font-size="7.6" font-weight="bold" textLength="8.2" lengthAdjust="spacingAndGlyphs" fill="#2a2222" font-family="'Liberation Sans', sans-serif">4.0</text>
<text x="180.8" y="269.6" font-size="7.6" font-weight="bold" textLength="8.2" lengthAdjust="spacingAndGlyphs" fill="#2a2222" font-family="'Liberation Sans', sans-serif">2.0</text>
<text x="180.8" y="332.2" font-size="7.6" font-weight="bold" textLength="8.2" lengthAdjust="spacingAndGlyphs" fill="#2a2222" font-family="'Liberation Sans', sans-serif">0.0</text>
<text x="195.4" y="345.0" font-size="7.6" font-weight="bold" textLength="8.4" lengthAdjust="spacingAndGlyphs" fill="#2a2222" font-family="'Liberation Sans', sans-serif">0.0</text>
<text x="267.9" y="345.0" font-size="7.6" font-weight="bold" textLength="8.4" lengthAdjust="spacingAndGlyphs" fill="#2a2222" font-family="'Liberation Sans', sans-serif">2.0</text>
<text x="340.6" y="345.0" font-size="7.6" font-weight="bold" textLength="8.4" lengthAdjust="spacingAndGlyphs" fill="#2a2222" font-family="'Liberation Sans', sans-serif">4.0</text>
<text x="273.5" y="355.8" font-size="8" font-weight="bold" text-anchor="middle" fill="#222" font-family="'Liberation Sans', sans-serif">Speed (mm/s)</text>
<text transform="translate(175.4,268) rotate(-90)" font-size="7.6" font-weight="bold" text-anchor="middle" fill="#222" font-family="'Liberation Sans', sans-serif">Speed (mm/s)</text>
<line x1="215.3" y1="314.6" x2="330.4" y2="213.7" stroke="#5ec8f0" stroke-width="1"/>
<line x1="217" y1="314.5" x2="330.4" y2="239.7" stroke="#e040e0" stroke-width="1"/>
<line x1="213.7" y1="206.8" x2="225.4" y2="206.8" stroke="#5ec8f0" stroke-width="1.1"/>
<circle cx="219.4" cy="206.8" r="1.2" fill="#4a5cf0"/>
<text x="233" y="208.6" font-size="6.3" font-weight="bold" fill="#222" font-family="'Liberation Sans', sans-serif">TPIOF</text>
<line x1="213.7" y1="221.0" x2="225.4" y2="221.0" stroke="#e040e0" stroke-width="1.1"/>
<path d="M219.4,219.6 L220.8,222 L218,222 Z" fill="#d41ad4"/>
<text x="234" y="222.6" font-size="6.3" font-weight="bold" fill="#222" font-family="'Liberation Sans', sans-serif">HSOF</text>
<text x="231.8" y="252.2" font-size="6.2" font-weight="bold" fill="#4a5cf0" font-family="'Liberation Sans', sans-serif">R<tspan font-size="4" dy="-2.5">2</tspan><tspan dy="2.5"> = 0.94</tspan></text>
<text x="231.8" y="259.7" font-size="6.2" font-weight="bold" fill="#4a5cf0" font-family="'Liberation Sans', sans-serif">Slope = 0.944</text>
<text x="284" y="298.2" font-size="6.2" font-weight="bold" fill="#d41ad4" font-family="'Liberation Sans', sans-serif">R<tspan font-size="4" dy="-2.5">2</tspan><tspan dy="2.5"> = 0.91</tspan></text>
<text x="284" y="305.6" font-size="6.2" font-weight="bold" fill="#d41ad4" font-family="'Liberation Sans', sans-serif">Slope = 0.76</text>
<circle cx="214.1" cy="305.8" r="1.25" fill="#4a5cf0"/>
<circle cx="213.5" cy="314.8" r="1.25" fill="#4a5cf0"/>
<circle cx="214.1" cy="314.5" r="1.25" fill="#4a5cf0"/>
<circle cx="215.3" cy="313.9" r="1.25" fill="#4a5cf0"/>
<circle cx="216.5" cy="313.3" r="1.25" fill="#4a5cf0"/>
<circle cx="217.7" cy="312.6" r="1.25" fill="#4a5cf0"/>
<circle cx="231.8" cy="291.5" r="1.25" fill="#4a5cf0"/>
<circle cx="233.8" cy="292.5" r="1.25" fill="#4a5cf0"/>
<circle cx="229.8" cy="304.8" r="1.25" fill="#4a5cf0"/>
<circle cx="230.8" cy="306.0" r="1.25" fill="#4a5cf0"/>
<circle cx="229.8" cy="307.2" r="1.25" fill="#4a5cf0"/>
<circle cx="231.4" cy="306.0" r="1.25" fill="#4a5cf0"/>
<circle cx="226.8" cy="309.0" r="1.25" fill="#4a5cf0"/>
<circle cx="232.8" cy="312.0" r="1.25" fill="#4a5cf0"/>
<circle cx="230.4" cy="309.0" r="1.25" fill="#4a5cf0"/>
<circle cx="264.2" cy="281.3" r="1.25" fill="#4a5cf0"/>
<circle cx="269.0" cy="274.7" r="1.25" fill="#4a5cf0"/>
<circle cx="267.0" cy="257.5" r="1.25" fill="#4a5cf0"/>
<circle cx="266.0" cy="258.0" r="1.25" fill="#4a5cf0"/>
<circle cx="279.8" cy="243.4" r="1.25" fill="#4a5cf0"/>
<circle cx="281.1" cy="244.7" r="1.25" fill="#4a5cf0"/>
<circle cx="282.2" cy="246.0" r="1.25" fill="#4a5cf0"/>
<circle cx="285.2" cy="246.0" r="1.25" fill="#4a5cf0"/>
<circle cx="288.5" cy="240.7" r="1.25" fill="#4a5cf0"/>
<circle cx="283.8" cy="253.4" r="1.25" fill="#4a5cf0"/>
<circle cx="284.9" cy="254.1" r="1.25" fill="#4a5cf0"/>
<circle cx="283.1" cy="259.5" r="1.25" fill="#4a5cf0"/>
<circle cx="283.8" cy="261.5" r="1.25" fill="#4a5cf0"/>
<circle cx="282.5" cy="263.5" r="1.25" fill="#4a5cf0"/>
<circle cx="285.8" cy="264.9" r="1.25" fill="#4a5cf0"/>
<circle cx="295.2" cy="243.4" r="1.25" fill="#4a5cf0"/>
<circle cx="297.3" cy="246.0" r="1.25" fill="#4a5cf0"/>
<circle cx="294.3" cy="247.4" r="1.25" fill="#4a5cf0"/>
<circle cx="293.9" cy="251.4" r="1.25" fill="#4a5cf0"/>
<circle cx="300.6" cy="240.7" r="1.25" fill="#4a5cf0"/>
<circle cx="301.3" cy="242.7" r="1.25" fill="#4a5cf0"/>
<circle cx="302.0" cy="227.5" r="1.25" fill="#4a5cf0"/>
<circle cx="300.0" cy="230.8" r="1.25" fill="#4a5cf0"/>
<circle cx="301.4" cy="231.9" r="1.25" fill="#4a5cf0"/>
<circle cx="300.0" cy="234.2" r="1.25" fill="#4a5cf0"/>
<circle cx="300.7" cy="240.3" r="1.25" fill="#4a5cf0"/>
<circle cx="301.4" cy="243.0" r="1.25" fill="#4a5cf0"/>
<circle cx="300.0" cy="241.6" r="1.25" fill="#4a5cf0"/>
<circle cx="296.7" cy="244.3" r="1.25" fill="#4a5cf0"/>
<circle cx="297.3" cy="246.3" r="1.25" fill="#4a5cf0"/>
<circle cx="320.2" cy="234.9" r="1.25" fill="#4a5cf0"/>
<circle cx="319.9" cy="238.9" r="1.25" fill="#4a5cf0"/>
<circle cx="330.3" cy="224.1" r="1.25" fill="#4a5cf0"/>
<circle cx="331.2" cy="223.5" r="1.25" fill="#4a5cf0"/>
<path d="M214.1,308.0 l1.4,2.4 l-2.8,0 Z" fill="#d41ad4"/>
<path d="M215.3,313.6 l1.4,2.4 l-2.8,0 Z" fill="#d41ad4"/>
<path d="M231.8,297.3 l1.4,2.4 l-2.8,0 Z" fill="#d41ad4"/>
<path d="M233.7,298.2 l1.4,2.4 l-2.8,0 Z" fill="#d41ad4"/>
<path d="M229.8,308.2 l1.4,2.4 l-2.8,0 Z" fill="#d41ad4"/>
<path d="M230.8,309.1 l1.4,2.4 l-2.8,0 Z" fill="#d41ad4"/>
<path d="M226.8,311.9 l1.4,2.4 l-2.8,0 Z" fill="#d41ad4"/>
<path d="M233.0,314.3 l1.4,2.4 l-2.8,0 Z" fill="#d41ad4"/>
<path d="M264.2,289.4 l1.4,2.4 l-2.8,0 Z" fill="#d41ad4"/>
<path d="M269.0,286.7 l1.4,2.4 l-2.8,0 Z" fill="#d41ad4"/>
<path d="M285.2,254.7 l1.4,2.4 l-2.8,0 Z" fill="#d41ad4"/>
<path d="M288.5,256.1 l1.4,2.4 l-2.8,0 Z" fill="#d41ad4"/>
<path d="M287.2,258.1 l1.4,2.4 l-2.8,0 Z" fill="#d41ad4"/>
<path d="M281.8,259.4 l1.4,2.4 l-2.8,0 Z" fill="#d41ad4"/>
<path d="M282.5,261.4 l1.4,2.4 l-2.8,0 Z" fill="#d41ad4"/>
<path d="M285.2,260.8 l1.4,2.4 l-2.8,0 Z" fill="#d41ad4"/>
<path d="M283.8,267.5 l1.4,2.4 l-2.8,0 Z" fill="#d41ad4"/>
<path d="M284.5,266.8 l1.4,2.4 l-2.8,0 Z" fill="#d41ad4"/>
<path d="M283.1,271.5 l1.4,2.4 l-2.8,0 Z" fill="#d41ad4"/>
<path d="M282.5,277.6 l1.4,2.4 l-2.8,0 Z" fill="#d41ad4"/>
<path d="M285.8,278.3 l1.4,2.4 l-2.8,0 Z" fill="#d41ad4"/>
<path d="M294.6,260.8 l1.4,2.4 l-2.8,0 Z" fill="#d41ad4"/>
<path d="M297.3,264.8 l1.4,2.4 l-2.8,0 Z" fill="#d41ad4"/>
<path d="M293.9,267.5 l1.4,2.4 l-2.8,0 Z" fill="#d41ad4"/>
<path d="M295.9,266.2 l1.4,2.4 l-2.8,0 Z" fill="#d41ad4"/>
<path d="M300.6,250.7 l1.4,2.4 l-2.8,0 Z" fill="#d41ad4"/>
<path d="M301.3,252.0 l1.4,2.4 l-2.8,0 Z" fill="#d41ad4"/>
<path d="M302.6,246.6 l1.4,2.4 l-2.8,0 Z" fill="#d41ad4"/>
<path d="M301.3,258.8 l1.4,2.4 l-2.8,0 Z" fill="#d41ad4"/>
<path d="M300.6,260.1 l1.4,2.4 l-2.8,0 Z" fill="#d41ad4"/>
<path d="M302.0,246.6 l1.4,2.4 l-2.8,0 Z" fill="#d41ad4"/>
<path d="M300.0,249.6 l1.4,2.4 l-2.8,0 Z" fill="#d41ad4"/>
<path d="M301.4,251.0 l1.4,2.4 l-2.8,0 Z" fill="#d41ad4"/>
<path d="M300.0,252.3 l1.4,2.4 l-2.8,0 Z" fill="#d41ad4"/>
<path d="M299.4,250.3 l1.4,2.4 l-2.8,0 Z" fill="#d41ad4"/>
<path d="M320.2,254.3 l1.4,2.4 l-2.8,0 Z" fill="#d41ad4"/>
<path d="M330.3,246.6 l1.4,2.4 l-2.8,0 Z" fill="#d41ad4"/>
<path d="M330.3,250.3 l1.4,2.4 l-2.8,0 Z" fill="#d41ad4"/>
<rect x="374" y="3" width="172.2" height="357.5" fill="#fffaed"/>
<text x="387.2" y="16.7" font-size="13.4" font-weight="bold" font-family="'Liberation Sans', sans-serif">E</text>
<text x="384.4" y="184.2" font-size="13.4" font-weight="bold" font-family="'Liberation Sans', sans-serif">F</text>
<rect x="391" y="28.2" width="126" height="62.3" fill="#fff" stroke="#c9ad94" stroke-width="2.2"/>
<g clip-path="url(#cE1L)">
<rect x="392" y="29" width="65" height="61" fill="#fff"/>
<rect x="392" y="29" width="65" height="61" filter="url(#pastel)"/>
<g fill="#f8c0a0" filter="url(#b05)"><circle cx="395.8" cy="36.1" r="0.77"/><circle cx="398.1" cy="36.3" r="0.60"/><circle cx="398.5" cy="37.3" r="0.92"/><circle cx="399.0" cy="37.3" r="0.80"/><circle cx="403.8" cy="38.3" r="0.84"/><circle cx="404.5" cy="39.1" r="0.88"/><circle cx="407.9" cy="40.5" r="0.86"/><circle cx="409.0" cy="41.9" r="0.64"/><circle cx="409.8" cy="42.0" r="0.80"/><circle cx="410.8" cy="42.8" r="0.71"/></g>
<g fill="#f0d880" filter="url(#b05)"><circle cx="416.5" cy="31.0" r="0.87"/><circle cx="416.6" cy="32.4" r="1.00"/><circle cx="415.0" cy="33.5" r="1.06"/><circle cx="415.2" cy="35.0" r="0.92"/><circle cx="413.6" cy="37.4" r="0.96"/><circle cx="412.6" cy="39.9" r="1.09"/><circle cx="411.7" cy="41.3" r="1.03"/><circle cx="412.0" cy="42.8" r="0.96"/><circle cx="411.5" cy="45.5" r="1.01"/><circle cx="411.8" cy="46.1" r="0.96"/><circle cx="411.3" cy="47.5" r="1.10"/><circle cx="412.1" cy="48.1" r="0.98"/><circle cx="411.8" cy="49.1" r="0.91"/><circle cx="411.5" cy="50.4" r="1.15"/><circle cx="411.6" cy="52.4" r="0.85"/><circle cx="411.7" cy="52.8" r="0.93"/><circle cx="412.1" cy="54.5" r="0.84"/><circle cx="413.2" cy="57.9" r="0.95"/><circle cx="413.1" cy="58.8" r="1.24"/><circle cx="413.2" cy="59.0" r="0.91"/><circle cx="413.3" cy="59.8" r="1.25"/><circle cx="414.0" cy="61.0" r="0.90"/><circle cx="414.5" cy="61.9" r="0.87"/><circle cx="414.1" cy="62.7" r="0.85"/><circle cx="414.5" cy="64.0" r="0.89"/><circle cx="415.1" cy="65.0" r="1.26"/></g><g fill="#e8c040" filter="url(#b05)"><circle cx="414.8" cy="33.7" r="0.60"/><circle cx="415.1" cy="34.6" r="0.73"/><circle cx="414.1" cy="35.2" r="0.56"/><circle cx="413.5" cy="35.9" r="0.72"/><circle cx="411.8" cy="46.0" r="0.55"/><circle cx="411.8" cy="47.6" r="0.67"/><circle cx="412.3" cy="51.7" r="0.74"/><circle cx="411.9" cy="56.3" r="0.73"/><circle cx="412.9" cy="57.7" r="0.54"/><circle cx="413.9" cy="59.8" r="0.50"/><circle cx="414.3" cy="62.4" r="0.71"/><circle cx="415.3" cy="65.4" r="0.67"/></g>
<g fill="#c8f4b8" filter="url(#b05)"><circle cx="406.7" cy="86.8" r="2.30"/><circle cx="406.5" cy="85.1" r="2.29"/><circle cx="407.1" cy="83.9" r="1.84"/><circle cx="408.8" cy="82.2" r="2.57"/><circle cx="410.8" cy="80.7" r="1.79"/><circle cx="411.4" cy="80.1" r="2.72"/><circle cx="411.5" cy="79.8" r="2.41"/><circle cx="413.9" cy="75.4" r="2.08"/><circle cx="415.3" cy="74.4" r="2.01"/><circle cx="416.9" cy="73.7" r="2.00"/><circle cx="417.4" cy="72.2" r="2.15"/><circle cx="418.9" cy="70.8" r="2.37"/><circle cx="418.6" cy="69.4" r="2.20"/><circle cx="419.6" cy="70.0" r="2.52"/><circle cx="422.0" cy="68.0" r="1.96"/><circle cx="423.2" cy="67.4" r="2.30"/><circle cx="422.6" cy="65.8" r="2.46"/><circle cx="425.4" cy="63.6" r="2.41"/><circle cx="425.2" cy="62.5" r="1.76"/><circle cx="428.9" cy="61.1" r="1.63"/><circle cx="428.8" cy="60.9" r="1.78"/><circle cx="428.5" cy="60.4" r="1.93"/><circle cx="430.5" cy="58.4" r="1.99"/><circle cx="432.4" cy="56.3" r="1.90"/><circle cx="434.6" cy="55.7" r="1.91"/></g><g fill="#70e070" filter="url(#b05)"><circle cx="402.9" cy="91.0" r="1.67"/><circle cx="402.4" cy="90.0" r="1.60"/><circle cx="404.6" cy="86.8" r="1.53"/><circle cx="407.5" cy="85.4" r="1.82"/><circle cx="408.5" cy="82.7" r="1.74"/><circle cx="411.0" cy="80.6" r="1.88"/><circle cx="410.9" cy="80.1" r="1.61"/><circle cx="412.3" cy="79.5" r="1.78"/><circle cx="413.1" cy="78.8" r="1.66"/><circle cx="413.9" cy="77.8" r="1.78"/><circle cx="417.2" cy="73.7" r="1.74"/><circle cx="419.0" cy="71.2" r="1.67"/><circle cx="420.0" cy="70.5" r="1.57"/><circle cx="420.6" cy="69.1" r="1.26"/><circle cx="421.6" cy="67.4" r="1.58"/><circle cx="421.2" cy="66.8" r="1.29"/><circle cx="422.1" cy="65.9" r="1.26"/><circle cx="423.5" cy="66.2" r="1.38"/><circle cx="423.1" cy="65.2" r="1.69"/><circle cx="424.0" cy="65.2" r="1.38"/><circle cx="425.5" cy="63.2" r="1.15"/><circle cx="427.5" cy="63.0" r="1.47"/><circle cx="427.6" cy="61.5" r="1.60"/><circle cx="428.1" cy="61.8" r="1.47"/><circle cx="429.0" cy="58.3" r="1.62"/><circle cx="432.5" cy="56.8" r="1.45"/><circle cx="432.0" cy="57.2" r="1.21"/><circle cx="433.8" cy="55.9" r="1.63"/><circle cx="433.7" cy="54.9" r="1.64"/><circle cx="434.3" cy="54.0" r="1.63"/></g><g fill="#20c020" filter="url(#b05)"><circle cx="403.0" cy="89.9" r="1.09"/><circle cx="404.3" cy="88.8" r="1.03"/><circle cx="405.3" cy="87.4" r="0.91"/><circle cx="406.4" cy="86.0" r="1.05"/><circle cx="407.9" cy="83.6" r="1.11"/><circle cx="408.9" cy="82.7" r="0.91"/><circle cx="409.7" cy="81.2" r="1.09"/><circle cx="410.9" cy="81.9" r="0.97"/><circle cx="411.2" cy="79.9" r="1.09"/><circle cx="415.1" cy="75.5" r="0.91"/><circle cx="414.3" cy="75.9" r="1.08"/><circle cx="417.7" cy="72.4" r="1.05"/><circle cx="419.7" cy="70.8" r="0.79"/><circle cx="420.7" cy="70.1" r="0.81"/><circle cx="422.2" cy="69.1" r="1.00"/><circle cx="422.2" cy="67.0" r="1.03"/><circle cx="425.4" cy="64.0" r="0.81"/><circle cx="425.8" cy="61.7" r="0.93"/><circle cx="426.5" cy="61.9" r="0.72"/><circle cx="428.9" cy="59.9" r="0.84"/><circle cx="431.5" cy="57.1" r="0.70"/></g><g fill="#f0f050" filter="url(#b05)"><circle cx="405.1" cy="87.7" r="0.76"/><circle cx="406.2" cy="85.8" r="0.93"/><circle cx="407.2" cy="84.5" r="0.72"/><circle cx="409.3" cy="80.6" r="0.91"/><circle cx="412.9" cy="78.8" r="0.98"/><circle cx="413.0" cy="77.0" r="0.86"/><circle cx="416.6" cy="74.3" r="0.91"/><circle cx="420.8" cy="67.4" r="0.62"/><circle cx="424.7" cy="65.5" r="0.75"/><circle cx="425.4" cy="62.9" r="0.64"/><circle cx="427.6" cy="60.4" r="0.66"/><circle cx="430.3" cy="59.1" r="0.86"/><circle cx="433.3" cy="55.4" r="0.76"/></g>
</g>
<g clip-path="url(#cE1R)">
<rect x="457" y="29" width="59" height="61" fill="#231c7e"/>
<rect x="457" y="29" width="59" height="61" filter="url(#bluenoise)"/>
<g fill="#1890e8" filter="url(#b05)"><circle cx="458.0" cy="32.2" r="1.64"/><circle cx="458.2" cy="32.8" r="1.65"/><circle cx="458.9" cy="33.1" r="1.79"/><circle cx="460.1" cy="33.5" r="1.80"/><circle cx="462.0" cy="35.1" r="1.67"/><circle cx="462.8" cy="35.8" r="1.30"/><circle cx="463.8" cy="36.8" r="1.57"/><circle cx="464.7" cy="37.1" r="1.69"/><circle cx="465.9" cy="37.9" r="1.45"/><circle cx="466.2" cy="37.8" r="1.74"/><circle cx="467.4" cy="38.4" r="1.31"/><circle cx="468.4" cy="39.3" r="1.52"/><circle cx="469.3" cy="39.4" r="1.40"/><circle cx="471.0" cy="40.5" r="1.31"/><circle cx="471.7" cy="41.1" r="1.32"/><circle cx="472.6" cy="40.8" r="1.34"/></g><g fill="#30c8e8" filter="url(#b05)"><circle cx="457.4" cy="32.2" r="1.35"/><circle cx="458.6" cy="32.4" r="1.04"/><circle cx="459.2" cy="33.1" r="1.00"/><circle cx="460.2" cy="33.7" r="1.43"/><circle cx="461.8" cy="35.0" r="1.14"/><circle cx="462.0" cy="35.3" r="1.44"/><circle cx="462.8" cy="35.7" r="1.11"/><circle cx="463.6" cy="36.6" r="1.24"/><circle cx="465.0" cy="37.0" r="1.17"/><circle cx="465.2" cy="37.2" r="1.38"/><circle cx="468.2" cy="39.4" r="1.04"/><circle cx="469.3" cy="39.5" r="1.42"/><circle cx="469.6" cy="40.2" r="1.00"/><circle cx="470.7" cy="40.5" r="1.30"/><circle cx="471.6" cy="40.9" r="1.09"/><circle cx="472.8" cy="41.4" r="1.06"/></g><g fill="#60e8a0" filter="url(#b05)"><circle cx="458.2" cy="32.4" r="0.94"/><circle cx="458.9" cy="33.0" r="0.78"/><circle cx="459.7" cy="33.7" r="0.82"/><circle cx="464.3" cy="37.3" r="0.64"/><circle cx="467.2" cy="38.7" r="0.84"/><circle cx="467.7" cy="39.0" r="0.97"/></g>
<g fill="#1890e8" filter="url(#b05)"><circle cx="481.7" cy="28.2" r="2.07"/><circle cx="481.0" cy="29.6" r="1.84"/><circle cx="480.9" cy="30.3" r="2.02"/><circle cx="480.2" cy="31.3" r="1.89"/><circle cx="479.7" cy="31.9" r="2.20"/><circle cx="479.9" cy="32.2" r="1.86"/><circle cx="479.3" cy="33.0" r="2.28"/><circle cx="477.8" cy="35.7" r="1.88"/><circle cx="477.9" cy="36.4" r="1.66"/><circle cx="477.3" cy="37.6" r="2.20"/><circle cx="476.9" cy="38.1" r="1.92"/><circle cx="476.9" cy="39.5" r="2.32"/><circle cx="476.3" cy="40.4" r="1.83"/><circle cx="475.7" cy="41.1" r="1.72"/><circle cx="475.0" cy="42.3" r="1.94"/><circle cx="475.2" cy="42.9" r="1.95"/><circle cx="475.2" cy="44.0" r="2.16"/><circle cx="475.2" cy="44.8" r="2.10"/><circle cx="475.2" cy="46.0" r="2.05"/><circle cx="475.6" cy="47.4" r="1.76"/><circle cx="475.4" cy="48.3" r="2.31"/><circle cx="475.9" cy="49.3" r="1.68"/><circle cx="476.0" cy="49.9" r="1.75"/><circle cx="475.5" cy="51.1" r="1.54"/><circle cx="475.9" cy="54.1" r="1.55"/><circle cx="475.8" cy="54.9" r="2.05"/><circle cx="475.9" cy="56.2" r="2.04"/><circle cx="476.0" cy="57.1" r="1.66"/><circle cx="476.2" cy="57.9" r="2.30"/><circle cx="476.1" cy="58.5" r="1.70"/><circle cx="476.0" cy="60.0" r="2.10"/><circle cx="476.5" cy="61.0" r="1.73"/><circle cx="477.1" cy="61.9" r="2.04"/><circle cx="477.1" cy="62.7" r="1.87"/><circle cx="477.1" cy="63.2" r="2.00"/><circle cx="477.1" cy="64.4" r="1.99"/><circle cx="478.3" cy="66.0" r="2.26"/></g><g fill="#30c8e8" filter="url(#b05)"><circle cx="481.3" cy="28.4" r="1.38"/><circle cx="481.4" cy="29.3" r="1.72"/><circle cx="480.9" cy="30.3" r="1.22"/><circle cx="480.4" cy="30.8" r="1.30"/><circle cx="479.7" cy="31.6" r="1.23"/><circle cx="479.8" cy="32.9" r="1.61"/><circle cx="479.3" cy="33.3" r="1.17"/><circle cx="478.8" cy="34.0" r="1.56"/><circle cx="478.1" cy="34.9" r="1.73"/><circle cx="478.1" cy="35.7" r="1.27"/><circle cx="477.1" cy="37.6" r="1.57"/><circle cx="476.7" cy="38.5" r="1.66"/><circle cx="476.0" cy="41.0" r="1.48"/><circle cx="475.8" cy="42.0" r="1.55"/><circle cx="475.6" cy="42.9" r="1.36"/><circle cx="475.3" cy="43.7" r="1.37"/><circle cx="475.4" cy="44.6" r="1.48"/><circle cx="475.7" cy="46.9" r="1.72"/><circle cx="475.9" cy="50.3" r="1.22"/><circle cx="475.8" cy="51.1" r="1.63"/><circle cx="475.8" cy="51.8" r="1.40"/><circle cx="475.7" cy="52.7" r="1.64"/><circle cx="476.0" cy="53.5" r="1.74"/><circle cx="476.0" cy="57.5" r="1.60"/><circle cx="476.2" cy="60.4" r="1.69"/><circle cx="476.5" cy="61.7" r="1.25"/><circle cx="476.8" cy="62.2" r="1.26"/><circle cx="477.7" cy="64.2" r="1.21"/><circle cx="477.9" cy="65.3" r="1.47"/><circle cx="478.0" cy="66.1" r="1.54"/></g><g fill="#60e8a0" filter="url(#b05)"><circle cx="481.6" cy="28.7" r="0.93"/><circle cx="481.2" cy="29.6" r="1.14"/><circle cx="477.4" cy="36.4" r="0.79"/><circle cx="477.1" cy="37.3" r="0.77"/><circle cx="475.8" cy="44.0" r="0.86"/><circle cx="475.5" cy="45.0" r="1.07"/><circle cx="475.3" cy="46.1" r="0.86"/><circle cx="476.2" cy="51.1" r="0.89"/><circle cx="475.9" cy="53.1" r="0.86"/><circle cx="476.4" cy="56.2" r="0.92"/><circle cx="476.2" cy="57.6" r="1.02"/><circle cx="476.3" cy="58.4" r="0.92"/><circle cx="476.7" cy="62.6" r="0.94"/><circle cx="477.6" cy="64.3" r="0.99"/><circle cx="477.6" cy="65.5" r="0.89"/><circle cx="478.0" cy="65.7" r="0.97"/></g>
<g fill="#1aa8f0" filter="url(#b05)"><circle cx="468.6" cy="91.6" r="3.10"/><circle cx="468.1" cy="89.6" r="2.64"/><circle cx="469.0" cy="88.5" r="2.60"/><circle cx="469.9" cy="88.2" r="3.10"/><circle cx="469.1" cy="87.6" r="2.98"/><circle cx="470.5" cy="86.4" r="3.83"/><circle cx="470.1" cy="85.7" r="3.95"/><circle cx="471.0" cy="84.1" r="4.02"/><circle cx="471.0" cy="82.7" r="3.63"/><circle cx="472.6" cy="82.7" r="4.35"/><circle cx="471.6" cy="81.8" r="4.39"/><circle cx="472.2" cy="80.7" r="3.54"/><circle cx="473.3" cy="79.6" r="4.14"/><circle cx="473.1" cy="78.5" r="4.31"/><circle cx="473.3" cy="78.2" r="4.19"/><circle cx="474.8" cy="77.9" r="4.28"/><circle cx="475.5" cy="76.9" r="3.85"/><circle cx="475.3" cy="76.1" r="3.92"/><circle cx="475.5" cy="75.2" r="5.20"/><circle cx="475.8" cy="74.6" r="5.08"/><circle cx="476.4" cy="73.2" r="5.14"/><circle cx="477.2" cy="72.5" r="4.93"/><circle cx="477.3" cy="71.6" r="4.38"/><circle cx="477.7" cy="70.7" r="4.27"/><circle cx="478.1" cy="69.6" r="4.97"/><circle cx="478.5" cy="69.6" r="4.08"/><circle cx="479.4" cy="68.2" r="4.55"/><circle cx="480.3" cy="67.9" r="4.86"/><circle cx="481.3" cy="67.5" r="4.55"/><circle cx="482.3" cy="65.7" r="4.80"/><circle cx="483.4" cy="65.8" r="4.82"/><circle cx="484.1" cy="64.4" r="5.15"/><circle cx="483.8" cy="63.8" r="4.45"/><circle cx="484.3" cy="63.3" r="4.41"/><circle cx="485.9" cy="62.2" r="5.13"/><circle cx="486.5" cy="62.5" r="3.96"/><circle cx="487.2" cy="61.3" r="4.08"/><circle cx="488.6" cy="60.9" r="3.68"/><circle cx="488.1" cy="60.3" r="4.13"/><circle cx="490.2" cy="61.1" r="4.15"/><circle cx="489.8" cy="60.3" r="4.24"/><circle cx="491.2" cy="58.6" r="4.72"/><circle cx="492.5" cy="58.0" r="3.50"/><circle cx="492.5" cy="58.4" r="3.58"/><circle cx="493.7" cy="58.0" r="3.99"/><circle cx="494.1" cy="56.8" r="4.15"/><circle cx="495.6" cy="55.4" r="3.88"/><circle cx="496.2" cy="55.5" r="3.23"/><circle cx="496.1" cy="54.1" r="3.56"/><circle cx="497.5" cy="53.6" r="2.22"/><circle cx="498.6" cy="54.1" r="2.96"/><circle cx="499.0" cy="53.3" r="2.47"/></g><g fill="#30d8b0" filter="url(#b05)"><circle cx="467.7" cy="90.7" r="2.67"/><circle cx="469.4" cy="88.9" r="2.33"/><circle cx="468.9" cy="87.7" r="2.14"/><circle cx="470.2" cy="87.6" r="2.46"/><circle cx="470.4" cy="86.0" r="3.43"/><circle cx="471.1" cy="85.2" r="2.89"/><circle cx="470.9" cy="83.7" r="2.88"/><circle cx="471.8" cy="82.8" r="2.52"/><circle cx="471.5" cy="83.1" r="3.35"/><circle cx="472.8" cy="81.1" r="3.36"/><circle cx="472.6" cy="81.4" r="3.64"/><circle cx="472.5" cy="80.3" r="4.06"/><circle cx="473.6" cy="79.6" r="2.94"/><circle cx="474.2" cy="77.6" r="3.69"/><circle cx="474.4" cy="77.6" r="2.98"/><circle cx="474.2" cy="76.7" r="3.34"/><circle cx="475.8" cy="74.9" r="4.49"/><circle cx="476.4" cy="75.2" r="4.56"/><circle cx="476.7" cy="74.0" r="4.26"/><circle cx="477.3" cy="73.2" r="3.33"/><circle cx="477.6" cy="72.2" r="4.21"/><circle cx="477.7" cy="71.8" r="4.64"/><circle cx="478.2" cy="71.2" r="4.16"/><circle cx="478.6" cy="69.9" r="4.86"/><circle cx="479.1" cy="68.2" r="4.43"/><circle cx="480.3" cy="68.5" r="4.00"/><circle cx="481.4" cy="67.1" r="3.93"/><circle cx="481.5" cy="65.8" r="3.57"/><circle cx="482.3" cy="66.1" r="4.82"/><circle cx="484.3" cy="64.1" r="3.50"/><circle cx="483.6" cy="64.0" r="3.34"/><circle cx="484.2" cy="63.8" r="3.37"/><circle cx="485.9" cy="63.6" r="3.43"/><circle cx="486.9" cy="62.9" r="4.14"/><circle cx="486.6" cy="62.1" r="3.20"/><circle cx="488.5" cy="60.9" r="3.72"/><circle cx="488.7" cy="60.4" r="3.51"/><circle cx="489.7" cy="61.0" r="3.68"/><circle cx="489.8" cy="60.0" r="3.81"/><circle cx="491.9" cy="58.8" r="3.90"/><circle cx="491.6" cy="57.9" r="2.89"/><circle cx="493.0" cy="58.0" r="2.64"/><circle cx="493.0" cy="57.0" r="3.33"/><circle cx="494.9" cy="56.0" r="2.33"/><circle cx="495.5" cy="55.9" r="3.20"/><circle cx="494.9" cy="55.4" r="2.26"/><circle cx="497.0" cy="54.0" r="2.12"/><circle cx="497.5" cy="53.6" r="2.56"/><circle cx="498.0" cy="54.3" r="2.20"/><circle cx="498.9" cy="53.0" r="2.05"/></g><g fill="#70e850" filter="url(#b05)"><circle cx="468.5" cy="90.8" r="2.19"/><circle cx="468.4" cy="89.9" r="2.25"/><circle cx="468.8" cy="89.5" r="2.12"/><circle cx="469.8" cy="87.9" r="2.20"/><circle cx="470.0" cy="87.4" r="2.45"/><circle cx="469.9" cy="84.7" r="2.42"/><circle cx="471.5" cy="83.5" r="2.44"/><circle cx="471.3" cy="83.9" r="2.77"/><circle cx="471.7" cy="82.6" r="2.89"/><circle cx="472.7" cy="81.9" r="2.57"/><circle cx="471.9" cy="81.0" r="2.66"/><circle cx="473.3" cy="79.6" r="3.10"/><circle cx="473.3" cy="78.8" r="3.57"/><circle cx="475.2" cy="77.2" r="2.95"/><circle cx="475.4" cy="76.6" r="2.48"/><circle cx="475.3" cy="76.2" r="2.58"/><circle cx="476.9" cy="73.4" r="2.52"/><circle cx="477.6" cy="72.4" r="3.16"/><circle cx="476.6" cy="72.3" r="3.49"/><circle cx="478.6" cy="71.6" r="3.49"/><circle cx="477.9" cy="70.4" r="3.39"/><circle cx="478.1" cy="69.7" r="3.59"/><circle cx="478.6" cy="68.1" r="3.40"/><circle cx="480.4" cy="68.3" r="3.65"/><circle cx="481.5" cy="66.2" r="3.47"/><circle cx="482.1" cy="66.5" r="2.91"/><circle cx="482.1" cy="65.8" r="3.34"/><circle cx="483.7" cy="64.4" r="2.77"/><circle cx="484.7" cy="63.5" r="3.12"/><circle cx="485.3" cy="64.0" r="2.81"/><circle cx="485.7" cy="62.5" r="3.40"/><circle cx="487.0" cy="62.6" r="3.11"/><circle cx="487.4" cy="61.8" r="3.37"/><circle cx="488.4" cy="61.0" r="2.89"/><circle cx="488.8" cy="60.2" r="3.38"/><circle cx="490.6" cy="60.1" r="2.65"/><circle cx="492.5" cy="58.5" r="2.71"/><circle cx="493.0" cy="58.6" r="2.51"/><circle cx="493.2" cy="57.9" r="2.71"/><circle cx="494.8" cy="56.8" r="2.73"/><circle cx="495.0" cy="55.5" r="2.21"/><circle cx="496.9" cy="54.7" r="1.82"/><circle cx="497.2" cy="54.0" r="1.62"/><circle cx="498.6" cy="53.6" r="1.58"/><circle cx="497.8" cy="53.2" r="1.53"/></g><g fill="#d0f030" filter="url(#b05)"><circle cx="468.5" cy="91.3" r="1.23"/><circle cx="467.9" cy="89.5" r="1.80"/><circle cx="469.4" cy="89.4" r="1.77"/><circle cx="468.7" cy="88.7" r="1.90"/><circle cx="470.1" cy="87.4" r="1.43"/><circle cx="470.5" cy="84.6" r="2.06"/><circle cx="470.2" cy="83.8" r="2.23"/><circle cx="471.9" cy="83.9" r="2.22"/><circle cx="471.7" cy="82.3" r="2.23"/><circle cx="472.7" cy="79.1" r="2.35"/><circle cx="474.1" cy="77.3" r="2.07"/><circle cx="475.1" cy="76.6" r="2.43"/><circle cx="475.2" cy="75.0" r="2.04"/><circle cx="475.8" cy="74.2" r="2.50"/><circle cx="476.7" cy="74.6" r="2.00"/><circle cx="476.7" cy="72.8" r="2.32"/><circle cx="477.1" cy="72.5" r="2.09"/><circle cx="477.3" cy="71.9" r="1.99"/><circle cx="478.5" cy="70.7" r="2.80"/><circle cx="478.7" cy="69.7" r="2.57"/><circle cx="480.4" cy="68.7" r="2.22"/><circle cx="481.4" cy="66.6" r="2.70"/><circle cx="482.8" cy="65.0" r="2.44"/><circle cx="484.8" cy="63.0" r="2.33"/><circle cx="486.5" cy="62.8" r="2.69"/><circle cx="487.1" cy="62.1" r="2.16"/><circle cx="486.7" cy="61.3" r="2.10"/><circle cx="488.8" cy="61.0" r="2.38"/><circle cx="488.1" cy="60.2" r="2.28"/><circle cx="490.3" cy="59.0" r="1.99"/><circle cx="490.7" cy="58.5" r="1.78"/><circle cx="492.2" cy="57.4" r="1.86"/><circle cx="495.6" cy="54.7" r="1.65"/><circle cx="496.2" cy="55.3" r="1.59"/><circle cx="497.7" cy="54.3" r="1.29"/><circle cx="497.8" cy="53.8" r="1.53"/><circle cx="498.9" cy="52.9" r="1.38"/></g><g fill="#f8c018" filter="url(#b05)"><circle cx="468.8" cy="91.2" r="1.40"/><circle cx="469.1" cy="87.7" r="1.30"/><circle cx="470.3" cy="85.6" r="1.34"/><circle cx="472.5" cy="82.3" r="1.63"/><circle cx="472.7" cy="81.3" r="1.77"/><circle cx="474.7" cy="77.3" r="2.24"/><circle cx="475.9" cy="75.0" r="1.78"/><circle cx="477.2" cy="73.0" r="2.00"/><circle cx="477.6" cy="73.0" r="2.40"/><circle cx="477.8" cy="72.3" r="1.89"/><circle cx="479.4" cy="70.3" r="2.03"/><circle cx="482.3" cy="65.8" r="1.76"/><circle cx="483.2" cy="65.0" r="2.48"/><circle cx="485.1" cy="63.2" r="1.80"/><circle cx="485.0" cy="63.6" r="1.74"/><circle cx="486.7" cy="63.2" r="2.34"/><circle cx="488.3" cy="61.7" r="1.59"/><circle cx="490.7" cy="60.5" r="1.94"/><circle cx="490.4" cy="59.3" r="2.09"/><circle cx="491.4" cy="58.3" r="1.72"/><circle cx="492.5" cy="57.4" r="1.63"/><circle cx="494.3" cy="57.8" r="1.57"/><circle cx="493.7" cy="56.4" r="1.63"/><circle cx="495.8" cy="55.5" r="1.16"/><circle cx="498.6" cy="53.4" r="0.90"/></g><g fill="#f86010" filter="url(#b05)"><circle cx="471.5" cy="84.0" r="1.11"/><circle cx="476.8" cy="73.3" r="1.51"/><circle cx="480.0" cy="68.6" r="1.74"/><circle cx="485.4" cy="63.7" r="1.99"/><circle cx="487.3" cy="62.2" r="1.65"/><circle cx="494.4" cy="56.1" r="1.48"/><circle cx="497.7" cy="53.5" r="1.11"/></g><g fill="#e01808" filter="url(#b05)"><circle cx="468.2" cy="90.0" r="1.11"/><circle cx="477.6" cy="71.0" r="1.46"/><circle cx="479.0" cy="68.5" r="2.10"/><circle cx="482.4" cy="64.7" r="1.42"/><circle cx="497.9" cy="52.3" r="0.99"/></g>
</g>
<rect x="499" y="35.2" width="13.7" height="1.8" fill="#fff"/>
<text x="494.6" y="46.4" font-size="8.4" font-weight="bold" fill="#fff" textLength="19.8" lengthAdjust="spacingAndGlyphs" font-family="'Liberation Sans', sans-serif">40μm</text>
<rect x="392.9" y="56.2" width="6.3" height="5.6" fill="none" stroke="#d8609e" stroke-width="1.7"/>
<rect x="419.1" y="63.1" width="6.4" height="5.6" fill="none" stroke="#1a6ec0" stroke-width="1.7"/>
<text x="395" y="76.3" font-size="10" font-weight="bold" font-family="'Liberation Sans', sans-serif">P2</text>
<text x="422.8" y="79.9" font-size="10" font-weight="bold" font-family="'Liberation Sans', sans-serif">P1</text>
<text transform="translate(528.9,59.7) rotate(-90)" font-size="8.2" font-weight="bold" text-anchor="middle" font-family="'Liberation Sans', sans-serif">HSOF</text>
<rect x="390.8" y="96.8" width="126.4" height="63.6" fill="#fff" stroke="#8fb6d6" stroke-width="2.2"/>
<g clip-path="url(#cE2L)">
<rect x="392" y="98" width="66" height="61" fill="#fff"/>
<g fill="#f8b098" filter="url(#b05)"><circle cx="392.8" cy="100.6" r="1.13"/><circle cx="393.7" cy="101.1" r="1.17"/><circle cx="394.1" cy="101.5" r="0.93"/><circle cx="395.4" cy="101.9" r="0.86"/><circle cx="396.3" cy="102.7" r="0.84"/><circle cx="397.4" cy="103.6" r="0.84"/><circle cx="398.2" cy="104.0" r="1.24"/><circle cx="399.9" cy="105.1" r="1.23"/><circle cx="400.5" cy="105.3" r="1.04"/><circle cx="402.2" cy="106.6" r="1.17"/><circle cx="404.0" cy="107.3" r="1.16"/><circle cx="405.1" cy="107.5" r="1.03"/><circle cx="407.4" cy="109.1" r="0.99"/></g><g fill="#f08060" filter="url(#b05)"><circle cx="392.5" cy="100.7" r="0.49"/><circle cx="394.4" cy="101.7" r="0.61"/><circle cx="395.2" cy="102.2" r="0.64"/><circle cx="395.9" cy="102.9" r="0.52"/><circle cx="396.7" cy="102.9" r="0.63"/><circle cx="397.7" cy="103.6" r="0.69"/><circle cx="401.8" cy="106.0" r="0.73"/><circle cx="403.0" cy="107.0" r="0.58"/><circle cx="404.2" cy="107.4" r="0.50"/><circle cx="404.6" cy="107.6" r="0.69"/><circle cx="405.5" cy="107.9" r="0.59"/><circle cx="406.9" cy="108.8" r="0.71"/><circle cx="407.7" cy="109.2" r="0.54"/></g>
<g fill="#f8c0b0" filter="url(#b05)"><circle cx="403.1" cy="117.4" r="0.68"/><circle cx="403.5" cy="118.4" r="0.91"/><circle cx="404.4" cy="118.9" r="1.02"/><circle cx="406.6" cy="119.8" r="1.01"/></g>
<g fill="#f8e090" filter="url(#b05)"><circle cx="411.1" cy="113.3" r="1.19"/><circle cx="411.2" cy="114.0" r="1.00"/><circle cx="411.0" cy="115.2" r="0.92"/><circle cx="411.4" cy="115.9" r="1.16"/><circle cx="411.4" cy="117.1" r="1.29"/><circle cx="411.3" cy="118.2" r="1.38"/><circle cx="411.5" cy="118.9" r="1.18"/><circle cx="411.6" cy="120.1" r="1.14"/><circle cx="411.4" cy="120.8" r="1.22"/><circle cx="411.4" cy="121.8" r="1.30"/><circle cx="411.5" cy="123.0" r="0.93"/><circle cx="411.6" cy="124.9" r="1.09"/><circle cx="411.6" cy="125.8" r="1.17"/><circle cx="412.0" cy="126.8" r="1.25"/><circle cx="411.9" cy="128.3" r="1.35"/><circle cx="411.6" cy="128.9" r="1.38"/><circle cx="412.0" cy="130.3" r="1.30"/><circle cx="412.5" cy="132.9" r="1.39"/></g><g fill="#f0c840" filter="url(#b05)"><circle cx="410.7" cy="110.6" r="0.55"/><circle cx="411.3" cy="111.3" r="0.74"/><circle cx="410.9" cy="112.4" r="0.63"/><circle cx="411.4" cy="114.2" r="0.61"/><circle cx="411.4" cy="115.3" r="0.73"/><circle cx="411.5" cy="117.1" r="0.68"/><circle cx="411.3" cy="118.2" r="0.57"/><circle cx="411.5" cy="122.0" r="0.66"/><circle cx="411.4" cy="124.0" r="0.75"/><circle cx="411.7" cy="126.0" r="0.64"/><circle cx="412.0" cy="127.8" r="0.59"/><circle cx="411.7" cy="130.0" r="0.67"/><circle cx="412.2" cy="131.0" r="0.52"/></g>
<g fill="#90e890" filter="url(#b05)"><circle cx="417.2" cy="99.5" r="1.31"/><circle cx="416.6" cy="100.2" r="1.23"/><circle cx="416.4" cy="101.1" r="1.25"/><circle cx="416.0" cy="101.6" r="1.33"/><circle cx="415.3" cy="102.7" r="1.37"/><circle cx="414.3" cy="103.8" r="1.37"/><circle cx="413.4" cy="105.4" r="1.07"/><circle cx="413.3" cy="106.1" r="1.34"/><circle cx="412.1" cy="108.1" r="0.95"/></g><g fill="#30d030" filter="url(#b05)"><circle cx="417.1" cy="99.8" r="0.81"/><circle cx="416.1" cy="101.0" r="0.63"/><circle cx="415.5" cy="101.9" r="0.88"/><circle cx="414.4" cy="103.7" r="0.74"/><circle cx="414.1" cy="104.4" r="0.78"/><circle cx="413.5" cy="105.6" r="0.70"/><circle cx="413.0" cy="106.2" r="0.63"/><circle cx="411.7" cy="107.9" r="0.69"/><circle cx="411.7" cy="108.6" r="0.72"/></g>
<g fill="#f8e0a0" filter="url(#b05)"><circle cx="432.1" cy="99.9" r="1.01"/><circle cx="433.1" cy="101.6" r="0.69"/><circle cx="433.3" cy="102.4" r="0.83"/><circle cx="433.7" cy="103.6" r="0.97"/><circle cx="434.0" cy="104.2" r="0.97"/><circle cx="434.9" cy="105.2" r="0.71"/><circle cx="434.7" cy="105.9" r="0.88"/><circle cx="434.7" cy="107.1" r="0.84"/><circle cx="435.4" cy="107.8" r="0.72"/><circle cx="435.2" cy="109.0" r="0.97"/><circle cx="435.5" cy="110.0" r="0.83"/><circle cx="435.7" cy="110.9" r="0.70"/><circle cx="435.7" cy="112.2" r="0.82"/><circle cx="435.3" cy="113.3" r="0.85"/><circle cx="435.3" cy="114.1" r="0.70"/><circle cx="435.7" cy="115.0" r="0.99"/><circle cx="435.4" cy="115.9" r="1.02"/><circle cx="435.5" cy="117.0" r="0.90"/></g>
<g fill="#f0c8f0" filter="url(#b05)"><circle cx="426.2" cy="104.1" r="0.67"/><circle cx="427.9" cy="102.2" r="0.82"/><circle cx="430.2" cy="100.7" r="0.87"/><circle cx="430.8" cy="100.0" r="0.90"/><circle cx="432.2" cy="100.0" r="0.87"/></g>
<g fill="#a0e8f0" filter="url(#b05)"><circle cx="439.5" cy="120.1" r="0.54"/><circle cx="440.2" cy="120.4" r="0.75"/><circle cx="441.4" cy="120.2" r="0.54"/><circle cx="442.3" cy="120.3" r="0.76"/><circle cx="445.1" cy="120.1" r="0.80"/><circle cx="447.0" cy="120.2" r="0.71"/><circle cx="447.8" cy="120.3" r="0.63"/><circle cx="451.7" cy="120.4" r="0.72"/><circle cx="452.5" cy="120.3" r="0.80"/><circle cx="453.6" cy="120.1" r="0.69"/><circle cx="454.6" cy="120.1" r="0.75"/></g>
<g fill="#c0d8f8" filter="url(#b05)"><circle cx="442.9" cy="127.0" r="0.48"/><circle cx="443.9" cy="127.0" r="0.56"/><circle cx="444.8" cy="127.0" r="0.65"/><circle cx="445.8" cy="127.3" r="0.51"/><circle cx="446.8" cy="127.3" r="0.69"/><circle cx="451.0" cy="127.0" r="0.51"/><circle cx="451.9" cy="127.0" r="0.64"/><circle cx="454.7" cy="127.0" r="0.48"/></g>
<g fill="#c0d0f0" filter="url(#b05)"><circle cx="417.4" cy="151.8" r="0.71"/><circle cx="418.8" cy="151.6" r="0.60"/><circle cx="419.3" cy="152.2" r="0.55"/><circle cx="420.3" cy="152.2" r="0.65"/><circle cx="421.3" cy="152.0" r="0.53"/><circle cx="424.0" cy="152.3" r="0.66"/><circle cx="425.2" cy="152.4" r="0.59"/><circle cx="429.8" cy="152.6" r="0.65"/><circle cx="431.2" cy="152.9" r="0.52"/><circle cx="432.3" cy="153.2" r="0.59"/><circle cx="433.4" cy="153.1" r="0.73"/><circle cx="439.0" cy="153.6" r="0.56"/><circle cx="441.6" cy="154.5" r="0.53"/><circle cx="445.0" cy="155.0" r="0.49"/><circle cx="447.6" cy="155.0" r="0.53"/><circle cx="448.5" cy="155.1" r="0.54"/></g>
<g fill="#d8d8f8" filter="url(#b05)"><circle cx="439.8" cy="103.4" r="0.61"/><circle cx="441.0" cy="103.8" r="0.60"/><circle cx="443.2" cy="104.5" r="0.80"/><circle cx="444.0" cy="105.2" r="0.57"/></g>
<g fill="#f0f0b0" filter="url(#b05)"><circle cx="452.8" cy="114.4" r="0.48"/><circle cx="453.3" cy="113.7" r="0.48"/><circle cx="454.1" cy="112.6" r="0.63"/><circle cx="454.5" cy="112.4" r="0.56"/><circle cx="455.3" cy="111.3" r="0.45"/><circle cx="455.5" cy="110.9" r="0.53"/></g>
<g fill="#c0f0f0" filter="url(#b05)"><circle cx="436.6" cy="122.7" r="0.98"/><circle cx="437.4" cy="123.2" r="0.90"/><circle cx="437.9" cy="123.8" r="0.79"/><circle cx="438.6" cy="124.7" r="0.99"/><circle cx="439.1" cy="125.3" r="0.77"/></g>
<g fill="#c0f6c0" filter="url(#b05)"><circle cx="402.3" cy="158.7" r="2.76"/><circle cx="402.6" cy="157.7" r="3.46"/><circle cx="403.6" cy="157.1" r="3.24"/><circle cx="403.9" cy="155.8" r="2.56"/><circle cx="404.4" cy="155.5" r="3.60"/><circle cx="404.4" cy="154.2" r="2.90"/><circle cx="404.9" cy="153.3" r="2.80"/><circle cx="405.5" cy="152.6" r="2.73"/><circle cx="405.8" cy="152.2" r="4.04"/><circle cx="406.5" cy="151.4" r="3.54"/><circle cx="406.9" cy="150.3" r="3.07"/><circle cx="407.5" cy="149.5" r="4.20"/><circle cx="408.0" cy="149.1" r="3.97"/><circle cx="408.6" cy="148.0" r="2.88"/><circle cx="408.8" cy="147.2" r="3.38"/><circle cx="409.6" cy="147.0" r="4.25"/><circle cx="410.2" cy="146.1" r="4.28"/><circle cx="410.5" cy="145.2" r="3.60"/><circle cx="411.5" cy="144.5" r="3.13"/><circle cx="412.0" cy="143.5" r="4.08"/><circle cx="412.2" cy="143.3" r="2.84"/><circle cx="413.3" cy="142.1" r="4.30"/><circle cx="413.7" cy="141.2" r="4.23"/><circle cx="414.3" cy="140.5" r="3.09"/><circle cx="414.8" cy="140.2" r="4.32"/><circle cx="415.9" cy="139.2" r="3.54"/><circle cx="416.5" cy="138.3" r="2.85"/><circle cx="417.0" cy="137.9" r="4.09"/><circle cx="417.3" cy="136.9" r="3.32"/><circle cx="418.0" cy="136.2" r="4.19"/><circle cx="418.5" cy="135.7" r="4.05"/><circle cx="419.2" cy="134.5" r="3.51"/><circle cx="420.3" cy="134.2" r="3.42"/><circle cx="420.7" cy="133.6" r="2.78"/><circle cx="421.1" cy="133.0" r="2.74"/><circle cx="421.9" cy="132.1" r="2.97"/><circle cx="423.0" cy="131.4" r="2.86"/><circle cx="423.3" cy="130.8" r="2.61"/><circle cx="424.1" cy="130.3" r="2.67"/><circle cx="424.7" cy="129.3" r="3.16"/><circle cx="425.2" cy="128.5" r="2.87"/><circle cx="425.8" cy="128.2" r="2.99"/><circle cx="427.0" cy="127.3" r="3.69"/><circle cx="427.7" cy="126.9" r="3.13"/><circle cx="428.7" cy="126.2" r="3.03"/><circle cx="429.2" cy="126.0" r="3.47"/><circle cx="430.1" cy="124.9" r="2.29"/><circle cx="430.8" cy="124.8" r="2.76"/><circle cx="431.9" cy="123.8" r="2.88"/><circle cx="432.7" cy="123.7" r="2.44"/><circle cx="433.8" cy="123.3" r="2.05"/><circle cx="434.6" cy="123.0" r="2.86"/><circle cx="435.0" cy="122.4" r="2.24"/><circle cx="436.2" cy="122.1" r="2.46"/><circle cx="437.0" cy="121.3" r="2.13"/></g><g fill="#2ed82e" filter="url(#b05)"><circle cx="402.1" cy="158.6" r="2.13"/><circle cx="403.0" cy="157.8" r="2.16"/><circle cx="403.4" cy="156.6" r="2.78"/><circle cx="403.7" cy="156.2" r="2.28"/><circle cx="404.5" cy="155.0" r="2.59"/><circle cx="404.6" cy="154.6" r="2.70"/><circle cx="405.4" cy="153.7" r="2.15"/><circle cx="405.5" cy="152.8" r="2.14"/><circle cx="406.1" cy="152.0" r="2.23"/><circle cx="406.3" cy="151.5" r="3.06"/><circle cx="406.8" cy="150.6" r="2.34"/><circle cx="407.3" cy="149.8" r="2.44"/><circle cx="407.9" cy="148.8" r="2.47"/><circle cx="408.7" cy="148.0" r="2.34"/><circle cx="408.8" cy="147.3" r="2.62"/><circle cx="409.5" cy="146.5" r="2.38"/><circle cx="410.0" cy="145.8" r="2.92"/><circle cx="410.6" cy="145.0" r="2.44"/><circle cx="411.0" cy="144.6" r="2.70"/><circle cx="411.8" cy="143.9" r="2.92"/><circle cx="412.8" cy="143.2" r="3.20"/><circle cx="413.0" cy="142.0" r="2.99"/><circle cx="413.6" cy="141.4" r="2.92"/><circle cx="414.2" cy="141.0" r="2.17"/><circle cx="414.9" cy="140.3" r="2.30"/><circle cx="415.4" cy="139.2" r="2.16"/><circle cx="416.0" cy="138.3" r="2.85"/><circle cx="416.6" cy="137.5" r="2.39"/><circle cx="417.6" cy="136.9" r="2.33"/><circle cx="418.3" cy="136.5" r="2.08"/><circle cx="418.7" cy="135.4" r="2.83"/><circle cx="419.3" cy="135.0" r="2.52"/><circle cx="420.1" cy="134.1" r="2.78"/><circle cx="420.5" cy="133.3" r="2.05"/><circle cx="421.5" cy="132.5" r="3.01"/><circle cx="421.7" cy="132.2" r="2.78"/><circle cx="422.9" cy="131.1" r="2.57"/><circle cx="423.5" cy="130.4" r="2.58"/><circle cx="424.2" cy="129.9" r="2.72"/><circle cx="424.7" cy="129.3" r="2.52"/><circle cx="425.3" cy="128.7" r="2.46"/><circle cx="426.2" cy="127.7" r="2.62"/><circle cx="426.8" cy="127.2" r="2.07"/><circle cx="427.6" cy="126.6" r="2.18"/><circle cx="428.4" cy="126.3" r="2.20"/><circle cx="429.6" cy="125.8" r="2.26"/><circle cx="430.1" cy="124.9" r="2.45"/><circle cx="430.9" cy="124.7" r="1.91"/><circle cx="431.7" cy="124.2" r="1.79"/><circle cx="432.8" cy="123.6" r="2.34"/><circle cx="433.7" cy="123.5" r="2.24"/><circle cx="434.2" cy="123.1" r="1.67"/><circle cx="435.0" cy="122.4" r="1.84"/><circle cx="436.3" cy="122.2" r="1.32"/><circle cx="437.0" cy="121.5" r="1.78"/></g><g fill="#18b818" filter="url(#b05)"><circle cx="402.5" cy="158.4" r="1.04"/><circle cx="403.0" cy="157.4" r="1.06"/><circle cx="405.9" cy="151.7" r="0.94"/><circle cx="406.4" cy="151.5" r="1.22"/><circle cx="408.2" cy="149.2" r="1.40"/><circle cx="409.8" cy="146.7" r="1.36"/><circle cx="413.2" cy="142.1" r="1.17"/><circle cx="414.3" cy="140.9" r="0.99"/><circle cx="415.7" cy="139.5" r="1.15"/><circle cx="416.2" cy="138.3" r="1.03"/><circle cx="416.7" cy="137.5" r="1.08"/><circle cx="421.3" cy="132.7" r="1.17"/><circle cx="430.0" cy="125.3" r="1.01"/><circle cx="432.0" cy="124.2" r="0.99"/><circle cx="432.4" cy="123.6" r="0.90"/><circle cx="433.3" cy="123.1" r="0.89"/><circle cx="436.4" cy="122.0" r="0.59"/><circle cx="437.2" cy="121.7" r="0.67"/></g><g fill="#80f080" filter="url(#b05)"><circle cx="402.3" cy="158.8" r="0.79"/><circle cx="403.5" cy="156.7" r="0.84"/><circle cx="403.8" cy="156.0" r="0.83"/><circle cx="405.3" cy="152.6" r="0.79"/><circle cx="408.2" cy="149.2" r="0.72"/><circle cx="409.2" cy="147.4" r="0.99"/><circle cx="410.8" cy="145.3" r="0.96"/><circle cx="412.4" cy="143.0" r="0.85"/><circle cx="416.0" cy="138.6" r="0.77"/><circle cx="420.0" cy="134.2" r="0.70"/><circle cx="421.3" cy="132.7" r="0.68"/><circle cx="422.2" cy="132.2" r="0.90"/><circle cx="423.1" cy="130.7" r="0.97"/><circle cx="424.8" cy="129.3" r="0.72"/><circle cx="425.4" cy="128.4" r="0.64"/><circle cx="426.0" cy="127.7" r="0.71"/><circle cx="426.7" cy="127.6" r="0.70"/><circle cx="430.8" cy="124.2" r="0.77"/><circle cx="433.6" cy="123.4" r="0.59"/><circle cx="434.1" cy="122.8" r="0.72"/><circle cx="436.1" cy="122.3" r="0.47"/><circle cx="436.9" cy="121.9" r="0.42"/></g>
</g>
<g clip-path="url(#cE2R)">
<rect x="458" y="98" width="58" height="61" fill="#1e0a38"/>
<g fill="#1a80dc" filter="url(#b05)"><circle cx="457.5" cy="100.0" r="1.62"/><circle cx="458.6" cy="100.3" r="1.97"/><circle cx="459.6" cy="101.2" r="1.88"/><circle cx="459.9" cy="101.5" r="1.78"/><circle cx="461.1" cy="102.6" r="1.57"/><circle cx="461.4" cy="103.3" r="2.04"/><circle cx="462.8" cy="103.7" r="1.61"/><circle cx="463.2" cy="104.4" r="1.95"/><circle cx="463.9" cy="104.4" r="2.19"/><circle cx="464.8" cy="105.4" r="1.91"/><circle cx="465.6" cy="105.7" r="1.67"/><circle cx="466.7" cy="105.9" r="1.95"/><circle cx="467.5" cy="106.6" r="1.54"/><circle cx="468.4" cy="107.2" r="2.01"/><circle cx="468.9" cy="107.0" r="1.69"/><circle cx="470.3" cy="108.0" r="2.10"/><circle cx="470.6" cy="108.6" r="1.95"/><circle cx="471.8" cy="108.7" r="2.02"/><circle cx="472.4" cy="109.2" r="2.18"/><circle cx="473.4" cy="109.7" r="1.96"/></g><g fill="#28b8e0" filter="url(#b05)"><circle cx="457.9" cy="99.5" r="1.20"/><circle cx="458.9" cy="100.3" r="1.27"/><circle cx="459.6" cy="100.9" r="1.51"/><circle cx="459.9" cy="101.9" r="1.10"/><circle cx="461.1" cy="102.2" r="1.22"/><circle cx="462.0" cy="102.7" r="1.21"/><circle cx="463.5" cy="104.1" r="1.49"/><circle cx="464.7" cy="105.2" r="1.55"/><circle cx="465.9" cy="105.7" r="1.45"/><circle cx="467.0" cy="105.7" r="1.50"/><circle cx="467.4" cy="106.6" r="1.42"/><circle cx="468.2" cy="106.6" r="1.60"/><circle cx="469.4" cy="107.6" r="1.43"/><circle cx="469.8" cy="108.0" r="1.42"/><circle cx="470.9" cy="108.4" r="1.22"/><circle cx="471.7" cy="108.4" r="1.19"/><circle cx="472.8" cy="108.9" r="1.62"/><circle cx="473.6" cy="109.3" r="1.49"/><circle cx="474.5" cy="110.1" r="1.19"/></g><g fill="#50e090" filter="url(#b05)"><circle cx="458.1" cy="99.5" r="0.79"/><circle cx="459.5" cy="101.1" r="0.78"/><circle cx="460.0" cy="101.4" r="1.04"/><circle cx="462.7" cy="103.6" r="0.79"/><circle cx="463.5" cy="104.2" r="0.91"/><circle cx="464.3" cy="104.8" r="0.79"/><circle cx="466.4" cy="105.9" r="0.99"/><circle cx="467.9" cy="106.6" r="1.04"/><circle cx="468.9" cy="107.2" r="1.03"/><circle cx="469.7" cy="107.5" r="1.05"/><circle cx="470.7" cy="108.6" r="1.04"/><circle cx="471.5" cy="109.1" r="1.04"/><circle cx="474.6" cy="110.6" r="1.06"/></g><g fill="#d8e830" filter="url(#b05)"><circle cx="458.0" cy="99.6" r="0.56"/><circle cx="458.6" cy="100.4" r="0.57"/><circle cx="461.0" cy="102.3" r="0.52"/><circle cx="463.7" cy="104.1" r="0.55"/><circle cx="464.1" cy="104.4" r="0.52"/><circle cx="466.2" cy="105.9" r="0.40"/><circle cx="469.8" cy="108.1" r="0.52"/><circle cx="474.1" cy="110.1" r="0.43"/></g>
<g fill="#1466cc" filter="url(#b05)"><circle cx="467.7" cy="98.5" r="1.09"/><circle cx="468.1" cy="99.3" r="1.47"/><circle cx="467.4" cy="100.6" r="1.10"/><circle cx="467.6" cy="101.5" r="1.19"/><circle cx="467.6" cy="102.0" r="1.42"/><circle cx="467.0" cy="103.0" r="1.48"/></g><g fill="#1a96e6" filter="url(#b05)"><circle cx="467.6" cy="99.0" r="0.81"/><circle cx="468.0" cy="99.7" r="1.11"/><circle cx="467.8" cy="101.6" r="1.00"/><circle cx="467.5" cy="102.0" r="1.01"/><circle cx="466.8" cy="103.1" r="0.89"/><circle cx="467.1" cy="104.1" r="0.89"/></g><g fill="#38c8d8" filter="url(#b05)"><circle cx="468.1" cy="99.8" r="0.51"/><circle cx="467.2" cy="101.4" r="0.62"/></g>
<g fill="#1a80dc" filter="url(#b05)"><circle cx="481.3" cy="98.7" r="2.22"/><circle cx="481.1" cy="99.6" r="2.31"/><circle cx="480.6" cy="100.9" r="1.99"/><circle cx="480.2" cy="101.3" r="2.27"/><circle cx="479.7" cy="102.2" r="2.33"/><circle cx="479.5" cy="103.5" r="2.05"/><circle cx="478.8" cy="103.9" r="2.12"/><circle cx="478.6" cy="105.0" r="2.43"/><circle cx="477.6" cy="106.3" r="2.07"/><circle cx="477.5" cy="106.6" r="2.43"/><circle cx="477.1" cy="107.7" r="2.30"/><circle cx="476.0" cy="109.0" r="2.23"/><circle cx="475.8" cy="109.6" r="1.66"/><circle cx="475.6" cy="110.6" r="2.14"/></g><g fill="#28b8e0" filter="url(#b05)"><circle cx="481.8" cy="99.1" r="1.54"/><circle cx="481.5" cy="99.7" r="1.24"/><circle cx="480.4" cy="100.7" r="1.30"/><circle cx="479.9" cy="101.6" r="1.74"/><circle cx="479.4" cy="102.8" r="1.24"/><circle cx="479.2" cy="104.6" r="1.69"/><circle cx="478.5" cy="105.1" r="1.43"/><circle cx="478.2" cy="106.3" r="1.67"/><circle cx="477.0" cy="106.7" r="1.68"/><circle cx="477.0" cy="107.9" r="1.48"/><circle cx="476.6" cy="108.6" r="1.59"/><circle cx="475.5" cy="109.9" r="1.34"/><circle cx="475.3" cy="111.0" r="1.84"/></g><g fill="#50e090" filter="url(#b05)"><circle cx="481.4" cy="98.6" r="0.89"/><circle cx="480.3" cy="100.2" r="1.01"/><circle cx="480.3" cy="101.9" r="1.07"/><circle cx="478.6" cy="104.5" r="0.92"/><circle cx="478.5" cy="104.8" r="0.81"/><circle cx="477.8" cy="105.6" r="0.90"/><circle cx="477.2" cy="106.6" r="0.95"/><circle cx="476.6" cy="107.5" r="1.11"/><circle cx="476.1" cy="108.9" r="1.11"/><circle cx="475.5" cy="109.5" r="1.11"/></g><g fill="#d8e830" filter="url(#b05)"><circle cx="480.5" cy="100.6" r="0.59"/><circle cx="475.9" cy="109.9" r="0.65"/></g>
<g fill="#1a80dc" filter="url(#b05)"><circle cx="474.8" cy="110.6" r="2.13"/><circle cx="475.5" cy="113.1" r="2.46"/><circle cx="475.4" cy="114.0" r="2.26"/><circle cx="475.6" cy="115.2" r="2.46"/><circle cx="475.8" cy="116.1" r="2.09"/><circle cx="475.6" cy="116.7" r="1.74"/><circle cx="475.9" cy="118.0" r="1.99"/><circle cx="475.5" cy="119.3" r="2.07"/><circle cx="475.6" cy="119.9" r="1.96"/><circle cx="476.3" cy="120.6" r="2.01"/><circle cx="475.7" cy="121.9" r="2.07"/><circle cx="476.6" cy="122.9" r="1.88"/><circle cx="476.1" cy="124.0" r="2.13"/><circle cx="476.6" cy="125.0" r="1.67"/><circle cx="476.5" cy="125.9" r="1.84"/><circle cx="477.2" cy="126.8" r="2.24"/><circle cx="477.3" cy="127.9" r="2.20"/><circle cx="477.3" cy="128.7" r="1.66"/><circle cx="477.5" cy="130.3" r="2.24"/><circle cx="478.0" cy="131.0" r="2.01"/><circle cx="478.7" cy="132.1" r="1.98"/><circle cx="478.6" cy="133.7" r="1.74"/></g><g fill="#28b8e0" filter="url(#b05)"><circle cx="475.5" cy="110.8" r="1.31"/><circle cx="475.0" cy="111.8" r="1.78"/><circle cx="475.4" cy="112.7" r="1.39"/><circle cx="475.5" cy="113.6" r="1.47"/><circle cx="475.4" cy="114.9" r="1.45"/><circle cx="475.9" cy="116.0" r="1.84"/><circle cx="475.9" cy="116.6" r="1.26"/><circle cx="475.3" cy="118.0" r="1.54"/><circle cx="475.9" cy="119.1" r="1.64"/><circle cx="475.5" cy="120.1" r="1.22"/><circle cx="476.1" cy="120.7" r="1.75"/><circle cx="475.7" cy="122.1" r="1.57"/><circle cx="476.4" cy="123.4" r="1.66"/><circle cx="476.1" cy="123.9" r="1.53"/><circle cx="476.2" cy="125.3" r="1.84"/><circle cx="476.3" cy="126.4" r="1.51"/><circle cx="477.1" cy="127.2" r="1.71"/><circle cx="477.2" cy="128.1" r="1.50"/><circle cx="477.0" cy="129.1" r="1.33"/><circle cx="477.6" cy="130.4" r="1.34"/><circle cx="477.8" cy="131.0" r="1.39"/><circle cx="478.2" cy="132.5" r="1.57"/><circle cx="479.2" cy="133.5" r="1.42"/></g><g fill="#50e090" filter="url(#b05)"><circle cx="475.0" cy="110.7" r="0.91"/><circle cx="475.3" cy="111.7" r="0.90"/><circle cx="475.2" cy="113.2" r="1.19"/><circle cx="475.3" cy="113.7" r="0.82"/><circle cx="475.4" cy="114.8" r="0.95"/><circle cx="475.5" cy="118.2" r="0.87"/><circle cx="475.5" cy="118.7" r="1.13"/><circle cx="475.8" cy="120.1" r="0.86"/><circle cx="476.3" cy="122.3" r="0.91"/><circle cx="476.4" cy="123.4" r="0.91"/><circle cx="476.1" cy="124.3" r="1.07"/><circle cx="476.7" cy="126.6" r="1.17"/><circle cx="476.7" cy="126.9" r="0.84"/><circle cx="476.9" cy="129.4" r="0.97"/><circle cx="477.7" cy="130.1" r="1.12"/><circle cx="477.8" cy="131.3" r="0.91"/><circle cx="478.2" cy="132.2" r="0.91"/><circle cx="479.2" cy="133.5" r="0.97"/></g><g fill="#d8e830" filter="url(#b05)"><circle cx="475.3" cy="110.8" r="0.62"/><circle cx="475.6" cy="111.6" r="0.63"/><circle cx="475.2" cy="115.7" r="0.43"/><circle cx="475.6" cy="116.7" r="0.46"/><circle cx="478.2" cy="130.8" r="0.63"/></g>
<g fill="#1466cc" filter="url(#b05)"><circle cx="467.1" cy="117.9" r="1.40"/><circle cx="467.6" cy="117.9" r="1.56"/><circle cx="468.7" cy="118.5" r="1.91"/><circle cx="469.2" cy="119.1" r="1.33"/><circle cx="469.8" cy="119.6" r="1.63"/><circle cx="470.3" cy="119.8" r="1.71"/><circle cx="471.6" cy="121.0" r="1.47"/><circle cx="472.2" cy="121.3" r="1.87"/><circle cx="473.2" cy="121.7" r="1.74"/><circle cx="474.3" cy="122.8" r="1.74"/></g><g fill="#1a96e6" filter="url(#b05)"><circle cx="467.1" cy="117.4" r="1.19"/><circle cx="467.5" cy="118.4" r="1.04"/><circle cx="468.5" cy="118.3" r="1.12"/><circle cx="469.0" cy="119.3" r="1.14"/><circle cx="469.6" cy="120.0" r="1.24"/><circle cx="470.6" cy="119.8" r="0.96"/><circle cx="471.2" cy="121.1" r="1.00"/><circle cx="472.6" cy="121.2" r="1.17"/><circle cx="473.5" cy="121.8" r="1.24"/><circle cx="474.7" cy="122.9" r="1.33"/></g><g fill="#38c8d8" filter="url(#b05)"><circle cx="466.8" cy="117.8" r="0.58"/><circle cx="470.7" cy="120.4" r="0.80"/><circle cx="471.7" cy="120.7" r="0.68"/></g>
<g fill="#1466cc" filter="url(#b05)"><circle cx="458.4" cy="121.5" r="1.13"/><circle cx="459.4" cy="120.6" r="0.91"/><circle cx="460.1" cy="120.3" r="1.26"/><circle cx="461.6" cy="119.3" r="1.28"/><circle cx="462.1" cy="118.8" r="1.24"/></g><g fill="#1a96e6" filter="url(#b05)"><circle cx="458.4" cy="121.4" r="0.96"/><circle cx="459.3" cy="120.6" r="0.98"/><circle cx="460.4" cy="120.5" r="0.75"/><circle cx="461.7" cy="119.7" r="0.87"/><circle cx="462.5" cy="118.5" r="0.87"/></g><g fill="#38c8d8" filter="url(#b05)"><circle cx="462.5" cy="118.7" r="0.47"/></g>
<g fill="#1466cc" filter="url(#b05)"><circle cx="486.3" cy="108.2" r="1.09"/><circle cx="486.4" cy="109.3" r="1.15"/><circle cx="486.4" cy="110.3" r="0.93"/><circle cx="486.5" cy="111.5" r="0.96"/></g><g fill="#1a96e6" filter="url(#b05)"><circle cx="486.5" cy="109.7" r="0.98"/><circle cx="486.4" cy="111.5" r="0.67"/></g><g fill="#38c8d8" filter="url(#b05)"><circle cx="486.2" cy="108.1" r="0.42"/><circle cx="486.2" cy="108.6" r="0.40"/><circle cx="486.2" cy="109.8" r="0.55"/></g>
<g fill="#1a98e8" filter="url(#b05)"><circle cx="486.1" cy="111.2" r="1.62"/><circle cx="485.7" cy="110.2" r="1.28"/><circle cx="486.7" cy="109.9" r="1.61"/><circle cx="486.7" cy="108.7" r="1.53"/><circle cx="486.9" cy="107.6" r="1.83"/><circle cx="487.4" cy="106.7" r="1.32"/><circle cx="487.3" cy="106.2" r="1.91"/><circle cx="488.0" cy="105.4" r="1.88"/><circle cx="489.0" cy="105.2" r="1.29"/><circle cx="489.7" cy="104.4" r="1.29"/><circle cx="490.6" cy="103.6" r="1.48"/><circle cx="491.0" cy="102.7" r="1.62"/><circle cx="491.9" cy="102.3" r="1.72"/><circle cx="492.7" cy="101.3" r="1.29"/><circle cx="494.1" cy="101.0" r="1.77"/><circle cx="495.6" cy="102.3" r="1.39"/><circle cx="495.8" cy="103.3" r="1.67"/><circle cx="496.1" cy="104.0" r="1.68"/><circle cx="496.7" cy="105.0" r="1.82"/><circle cx="496.4" cy="105.9" r="1.44"/><circle cx="496.8" cy="107.3" r="1.68"/><circle cx="497.7" cy="107.7" r="1.45"/><circle cx="497.7" cy="108.9" r="1.60"/><circle cx="497.4" cy="109.6" r="1.59"/><circle cx="498.0" cy="110.3" r="1.63"/><circle cx="497.9" cy="111.2" r="1.89"/><circle cx="498.3" cy="112.1" r="1.70"/><circle cx="497.9" cy="113.4" r="1.78"/><circle cx="498.4" cy="114.3" r="1.42"/><circle cx="498.3" cy="114.9" r="1.44"/><circle cx="498.4" cy="116.2" r="1.43"/><circle cx="498.6" cy="117.0" r="1.47"/><circle cx="499.3" cy="118.3" r="1.31"/><circle cx="499.0" cy="119.2" r="1.80"/><circle cx="499.3" cy="119.6" r="1.72"/><circle cx="499.1" cy="120.5" r="1.75"/></g><g fill="#30d0d0" filter="url(#b05)"><circle cx="485.5" cy="111.3" r="1.05"/><circle cx="486.0" cy="110.6" r="1.01"/><circle cx="486.0" cy="110.0" r="1.10"/><circle cx="486.7" cy="108.7" r="1.29"/><circle cx="486.9" cy="108.2" r="1.11"/><circle cx="486.7" cy="106.6" r="1.35"/><circle cx="487.9" cy="106.6" r="1.23"/><circle cx="488.6" cy="105.9" r="1.16"/><circle cx="488.7" cy="104.6" r="1.07"/><circle cx="489.7" cy="104.3" r="1.15"/><circle cx="490.3" cy="103.8" r="1.04"/><circle cx="491.3" cy="103.0" r="1.34"/><circle cx="492.0" cy="102.2" r="1.14"/><circle cx="493.3" cy="101.5" r="1.04"/><circle cx="493.6" cy="100.8" r="1.03"/><circle cx="494.8" cy="102.1" r="0.96"/><circle cx="496.1" cy="102.2" r="0.95"/><circle cx="496.3" cy="103.2" r="1.27"/><circle cx="496.2" cy="104.2" r="1.39"/><circle cx="496.4" cy="105.3" r="1.24"/><circle cx="497.0" cy="106.4" r="1.12"/><circle cx="497.0" cy="107.3" r="1.35"/><circle cx="497.0" cy="107.7" r="1.14"/><circle cx="497.3" cy="109.2" r="1.21"/><circle cx="497.8" cy="109.8" r="0.95"/><circle cx="498.0" cy="110.5" r="1.20"/><circle cx="497.8" cy="111.2" r="1.39"/><circle cx="498.1" cy="112.6" r="0.95"/><circle cx="498.3" cy="113.5" r="1.35"/><circle cx="498.4" cy="114.2" r="1.16"/><circle cx="498.5" cy="115.6" r="1.24"/><circle cx="498.8" cy="117.4" r="1.00"/><circle cx="498.8" cy="117.7" r="1.07"/><circle cx="498.8" cy="118.9" r="1.21"/><circle cx="499.1" cy="119.4" r="0.96"/><circle cx="499.1" cy="120.5" r="1.15"/></g><g fill="#90f040" filter="url(#b05)"><circle cx="485.7" cy="111.4" r="0.82"/><circle cx="485.9" cy="110.7" r="0.64"/><circle cx="486.0" cy="109.3" r="0.83"/><circle cx="486.8" cy="107.2" r="0.95"/><circle cx="488.0" cy="106.3" r="0.83"/><circle cx="488.2" cy="105.4" r="0.96"/><circle cx="489.3" cy="103.8" r="0.74"/><circle cx="490.4" cy="103.7" r="0.96"/><circle cx="491.3" cy="103.0" r="0.91"/><circle cx="492.1" cy="101.7" r="0.94"/><circle cx="494.0" cy="100.9" r="0.94"/><circle cx="494.6" cy="101.3" r="0.76"/><circle cx="495.8" cy="102.0" r="0.93"/><circle cx="496.2" cy="103.6" r="0.84"/><circle cx="496.0" cy="104.0" r="0.95"/><circle cx="496.5" cy="105.4" r="0.85"/><circle cx="496.7" cy="106.2" r="0.63"/><circle cx="497.2" cy="107.0" r="0.69"/><circle cx="497.3" cy="109.7" r="0.64"/><circle cx="497.4" cy="110.5" r="0.78"/><circle cx="497.5" cy="111.7" r="0.88"/><circle cx="498.1" cy="112.2" r="0.89"/><circle cx="497.8" cy="114.2" r="0.91"/><circle cx="498.3" cy="115.3" r="0.73"/><circle cx="498.4" cy="116.3" r="0.92"/><circle cx="498.7" cy="117.9" r="0.92"/><circle cx="499.0" cy="118.9" r="0.94"/><circle cx="499.7" cy="120.3" r="0.66"/></g><g fill="#f0b020" filter="url(#b05)"><circle cx="485.4" cy="111.4" r="0.43"/><circle cx="486.0" cy="110.2" r="0.57"/><circle cx="486.1" cy="108.5" r="0.56"/><circle cx="487.1" cy="108.3" r="0.54"/><circle cx="487.3" cy="107.2" r="0.45"/><circle cx="488.2" cy="105.9" r="0.39"/><circle cx="489.5" cy="104.5" r="0.52"/><circle cx="490.1" cy="103.5" r="0.53"/><circle cx="491.0" cy="102.4" r="0.45"/><circle cx="492.1" cy="102.1" r="0.51"/><circle cx="493.2" cy="101.9" r="0.50"/><circle cx="494.2" cy="101.3" r="0.53"/><circle cx="495.9" cy="102.6" r="0.54"/><circle cx="496.6" cy="104.4" r="0.39"/><circle cx="496.5" cy="105.3" r="0.39"/><circle cx="496.7" cy="106.2" r="0.52"/><circle cx="496.8" cy="107.1" r="0.43"/><circle cx="497.7" cy="108.6" r="0.40"/><circle cx="498.2" cy="112.4" r="0.40"/><circle cx="497.9" cy="113.2" r="0.40"/><circle cx="497.8" cy="114.1" r="0.52"/><circle cx="499.0" cy="118.2" r="0.41"/><circle cx="499.8" cy="120.8" r="0.52"/></g>
<g fill="#1466cc" filter="url(#b05)"><circle cx="486.2" cy="111.1" r="1.35"/><circle cx="486.3" cy="112.0" r="1.24"/><circle cx="486.8" cy="113.4" r="1.08"/><circle cx="486.8" cy="114.4" r="1.25"/><circle cx="487.4" cy="116.2" r="1.34"/></g><g fill="#1a96e6" filter="url(#b05)"><circle cx="485.4" cy="111.7" r="0.75"/><circle cx="486.0" cy="112.1" r="0.98"/><circle cx="486.7" cy="113.0" r="0.94"/><circle cx="486.9" cy="114.5" r="0.69"/><circle cx="487.1" cy="115.2" r="0.83"/></g><g fill="#38c8d8" filter="url(#b05)"><circle cx="486.5" cy="112.1" r="0.51"/></g>
<g fill="#1466cc" filter="url(#b05)"><circle cx="504.1" cy="119.7" r="1.77"/><circle cx="504.6" cy="119.6" r="1.74"/><circle cx="505.7" cy="119.9" r="1.52"/><circle cx="507.2" cy="119.7" r="1.86"/><circle cx="507.8" cy="119.1" r="1.62"/><circle cx="509.8" cy="119.0" r="1.73"/><circle cx="510.3" cy="119.1" r="2.03"/><circle cx="511.3" cy="118.6" r="1.47"/><circle cx="512.2" cy="118.8" r="1.85"/><circle cx="513.5" cy="118.3" r="2.15"/><circle cx="514.3" cy="118.6" r="2.03"/><circle cx="514.9" cy="118.4" r="2.03"/></g><g fill="#1a96e6" filter="url(#b05)"><circle cx="503.7" cy="119.6" r="1.33"/><circle cx="505.2" cy="119.9" r="1.18"/><circle cx="505.7" cy="119.5" r="1.38"/><circle cx="509.1" cy="119.1" r="1.28"/><circle cx="509.4" cy="119.2" r="1.08"/><circle cx="510.5" cy="119.2" r="1.46"/><circle cx="511.5" cy="118.7" r="1.18"/><circle cx="512.5" cy="118.9" r="1.29"/><circle cx="513.1" cy="118.4" r="1.04"/></g><g fill="#38c8d8" filter="url(#b05)"><circle cx="504.7" cy="119.4" r="0.89"/><circle cx="506.7" cy="119.0" r="0.73"/><circle cx="507.4" cy="118.8" r="0.62"/><circle cx="508.7" cy="119.3" r="0.76"/><circle cx="512.6" cy="119.0" r="0.62"/><circle cx="513.6" cy="118.4" r="0.88"/><circle cx="513.9" cy="118.1" r="0.64"/></g>
<g fill="#1466cc" filter="url(#b05)"><circle cx="508.0" cy="120.5" r="1.25"/><circle cx="508.7" cy="121.2" r="1.29"/><circle cx="510.1" cy="122.6" r="1.24"/><circle cx="510.4" cy="123.4" r="1.70"/><circle cx="511.4" cy="124.0" r="1.21"/><circle cx="512.2" cy="124.8" r="1.61"/><circle cx="513.1" cy="125.7" r="1.70"/><circle cx="514.0" cy="125.9" r="1.53"/></g><g fill="#1a96e6" filter="url(#b05)"><circle cx="507.7" cy="121.0" r="0.92"/><circle cx="508.4" cy="121.3" r="0.96"/><circle cx="508.9" cy="121.8" r="1.06"/><circle cx="510.0" cy="122.7" r="0.99"/><circle cx="510.9" cy="123.5" r="1.18"/><circle cx="511.5" cy="124.4" r="0.84"/><circle cx="512.1" cy="125.1" r="1.03"/><circle cx="513.4" cy="125.8" r="1.09"/></g><g fill="#38c8d8" filter="url(#b05)"><circle cx="507.6" cy="121.0" r="0.53"/></g>
<g fill="#1466cc" filter="url(#b05)"><circle cx="507.1" cy="127.1" r="1.41"/><circle cx="508.6" cy="127.5" r="1.27"/><circle cx="509.0" cy="127.6" r="1.46"/><circle cx="509.8" cy="128.3" r="1.54"/><circle cx="511.2" cy="128.6" r="1.26"/><circle cx="512.2" cy="128.9" r="1.40"/><circle cx="512.4" cy="128.1" r="1.25"/><circle cx="513.4" cy="127.7" r="1.22"/><circle cx="514.6" cy="126.4" r="1.60"/><circle cx="515.1" cy="125.6" r="1.19"/></g><g fill="#1a96e6" filter="url(#b05)"><circle cx="507.2" cy="127.2" r="0.98"/><circle cx="508.3" cy="127.0" r="0.79"/><circle cx="509.1" cy="127.7" r="0.93"/><circle cx="511.4" cy="128.2" r="1.00"/><circle cx="512.5" cy="128.8" r="1.18"/><circle cx="512.8" cy="128.5" r="0.93"/><circle cx="513.3" cy="127.4" r="1.13"/><circle cx="514.3" cy="126.2" r="0.79"/></g><g fill="#38c8d8" filter="url(#b05)"><circle cx="511.0" cy="128.4" r="0.47"/><circle cx="515.1" cy="126.2" r="0.53"/></g>
<g fill="#1466cc" filter="url(#b05)"><circle cx="488.5" cy="137.8" r="1.43"/><circle cx="489.3" cy="138.3" r="1.20"/><circle cx="490.5" cy="138.6" r="1.63"/><circle cx="491.3" cy="139.0" r="1.55"/><circle cx="492.0" cy="139.4" r="1.26"/><circle cx="492.8" cy="140.4" r="1.34"/><circle cx="493.9" cy="140.8" r="1.58"/><circle cx="494.3" cy="141.3" r="1.65"/><circle cx="495.6" cy="142.2" r="1.37"/></g><g fill="#1a96e6" filter="url(#b05)"><circle cx="488.9" cy="137.8" r="1.03"/><circle cx="490.0" cy="138.3" r="1.01"/><circle cx="490.2" cy="138.3" r="1.08"/><circle cx="491.5" cy="138.7" r="1.26"/><circle cx="492.2" cy="139.5" r="1.01"/><circle cx="492.6" cy="140.0" r="0.87"/><circle cx="493.7" cy="140.9" r="0.91"/><circle cx="494.9" cy="141.6" r="1.02"/></g><g fill="#38c8d8" filter="url(#b05)"><circle cx="490.5" cy="138.9" r="0.59"/><circle cx="495.7" cy="142.3" r="0.56"/></g>
<g fill="#1466cc" filter="url(#b05)"><circle cx="495.7" cy="142.2" r="1.44"/><circle cx="495.8" cy="141.4" r="1.91"/><circle cx="496.4" cy="141.0" r="1.32"/><circle cx="498.2" cy="138.9" r="1.39"/><circle cx="498.5" cy="138.6" r="1.67"/><circle cx="499.7" cy="136.7" r="1.81"/><circle cx="500.0" cy="136.3" r="1.41"/><circle cx="501.1" cy="135.1" r="1.33"/><circle cx="501.3" cy="134.4" r="1.57"/><circle cx="502.2" cy="134.2" r="1.54"/><circle cx="502.9" cy="133.7" r="1.83"/><circle cx="503.7" cy="133.0" r="1.86"/><circle cx="504.1" cy="133.0" r="1.64"/><circle cx="504.3" cy="133.6" r="1.61"/><circle cx="505.7" cy="134.9" r="1.54"/><circle cx="505.8" cy="135.5" r="1.80"/><circle cx="506.6" cy="135.7" r="1.35"/><circle cx="507.7" cy="136.3" r="1.61"/><circle cx="507.8" cy="137.4" r="1.88"/><circle cx="508.2" cy="138.1" r="1.81"/><circle cx="508.4" cy="139.0" r="1.78"/><circle cx="509.1" cy="139.7" r="1.27"/><circle cx="509.7" cy="140.4" r="1.61"/><circle cx="509.9" cy="141.1" r="1.88"/><circle cx="510.9" cy="141.2" r="1.29"/><circle cx="511.7" cy="141.4" r="1.90"/><circle cx="513.5" cy="141.6" r="1.86"/><circle cx="514.0" cy="141.4" r="1.59"/><circle cx="515.1" cy="141.7" r="1.28"/></g><g fill="#1a96e6" filter="url(#b05)"><circle cx="495.2" cy="142.4" r="1.09"/><circle cx="495.9" cy="141.3" r="1.13"/><circle cx="496.5" cy="140.8" r="1.25"/><circle cx="496.9" cy="139.8" r="1.17"/><circle cx="497.7" cy="139.2" r="1.13"/><circle cx="498.7" cy="138.3" r="1.28"/><circle cx="499.1" cy="136.6" r="1.37"/><circle cx="500.0" cy="135.9" r="0.96"/><circle cx="501.1" cy="135.5" r="1.04"/><circle cx="501.4" cy="134.9" r="1.37"/><circle cx="502.1" cy="133.7" r="1.16"/><circle cx="503.2" cy="132.9" r="1.00"/><circle cx="504.2" cy="133.7" r="1.23"/><circle cx="504.5" cy="133.6" r="1.36"/><circle cx="505.0" cy="134.4" r="1.00"/><circle cx="505.8" cy="135.3" r="1.11"/><circle cx="506.6" cy="135.6" r="1.08"/><circle cx="507.9" cy="137.0" r="1.08"/><circle cx="508.2" cy="137.9" r="1.19"/><circle cx="508.9" cy="139.2" r="1.02"/><circle cx="509.5" cy="139.5" r="1.32"/><circle cx="510.2" cy="141.6" r="1.16"/><circle cx="511.1" cy="141.4" r="1.22"/><circle cx="512.2" cy="141.0" r="1.16"/><circle cx="513.0" cy="141.3" r="1.09"/><circle cx="514.0" cy="141.1" r="1.05"/><circle cx="515.1" cy="141.6" r="1.34"/></g><g fill="#38c8d8" filter="url(#b05)"><circle cx="495.5" cy="142.4" r="0.77"/><circle cx="496.3" cy="141.8" r="0.58"/><circle cx="496.8" cy="140.4" r="0.75"/><circle cx="497.3" cy="139.5" r="0.80"/><circle cx="498.9" cy="137.6" r="0.79"/><circle cx="499.6" cy="136.5" r="0.78"/><circle cx="500.3" cy="136.3" r="0.78"/><circle cx="501.0" cy="135.7" r="0.65"/><circle cx="504.1" cy="133.7" r="0.63"/><circle cx="506.7" cy="136.1" r="0.68"/><circle cx="507.8" cy="137.2" r="0.70"/><circle cx="509.1" cy="139.1" r="0.58"/><circle cx="508.9" cy="139.7" r="0.62"/><circle cx="510.2" cy="141.8" r="0.55"/><circle cx="510.9" cy="141.7" r="0.78"/><circle cx="511.9" cy="141.7" r="0.72"/><circle cx="514.2" cy="141.0" r="0.80"/></g>
<g fill="#1466cc" filter="url(#b05)"><circle cx="503.1" cy="141.7" r="1.37"/><circle cx="504.0" cy="142.3" r="1.40"/><circle cx="504.2" cy="144.4" r="1.40"/><circle cx="504.2" cy="145.7" r="1.65"/><circle cx="505.1" cy="144.6" r="1.10"/><circle cx="506.4" cy="143.9" r="1.18"/><circle cx="507.5" cy="143.2" r="1.61"/></g><g fill="#1a96e6" filter="url(#b05)"><circle cx="503.7" cy="141.4" r="0.95"/><circle cx="504.3" cy="144.4" r="1.12"/><circle cx="504.3" cy="144.9" r="1.18"/><circle cx="505.1" cy="145.0" r="0.95"/><circle cx="506.3" cy="143.8" r="1.15"/><circle cx="507.0" cy="143.6" r="0.96"/></g><g fill="#38c8d8" filter="url(#b05)"></g>
<g fill="#1466cc" filter="url(#b05)"><circle cx="494.1" cy="146.5" r="1.75"/><circle cx="494.3" cy="147.4" r="1.88"/><circle cx="494.8" cy="147.9" r="1.38"/><circle cx="495.0" cy="148.3" r="1.52"/><circle cx="495.6" cy="149.7" r="1.41"/><circle cx="496.5" cy="150.6" r="1.84"/><circle cx="496.7" cy="151.4" r="1.65"/><circle cx="497.6" cy="151.6" r="1.36"/><circle cx="498.3" cy="152.3" r="1.32"/><circle cx="499.5" cy="152.2" r="1.70"/><circle cx="500.5" cy="153.1" r="1.70"/><circle cx="501.2" cy="152.7" r="1.34"/><circle cx="502.5" cy="152.8" r="1.47"/><circle cx="503.6" cy="152.4" r="1.76"/><circle cx="505.3" cy="152.7" r="1.81"/><circle cx="506.5" cy="152.5" r="1.42"/><circle cx="507.3" cy="152.2" r="1.86"/><circle cx="508.0" cy="152.8" r="1.71"/><circle cx="508.9" cy="152.7" r="1.51"/><circle cx="510.3" cy="153.6" r="1.36"/><circle cx="510.8" cy="154.0" r="1.71"/><circle cx="512.3" cy="153.9" r="1.63"/><circle cx="512.9" cy="154.2" r="1.93"/><circle cx="513.7" cy="154.8" r="1.82"/><circle cx="515.3" cy="155.1" r="1.77"/><circle cx="515.9" cy="155.3" r="1.63"/></g><g fill="#1a96e6" filter="url(#b05)"><circle cx="493.6" cy="145.0" r="0.98"/><circle cx="494.0" cy="145.9" r="1.24"/><circle cx="495.1" cy="147.8" r="1.29"/><circle cx="495.6" cy="148.8" r="1.18"/><circle cx="495.8" cy="149.8" r="1.22"/><circle cx="496.6" cy="149.9" r="1.12"/><circle cx="496.7" cy="150.7" r="1.34"/><circle cx="497.6" cy="151.9" r="1.03"/><circle cx="498.2" cy="152.0" r="1.02"/><circle cx="499.8" cy="152.2" r="1.24"/><circle cx="500.7" cy="152.9" r="1.28"/><circle cx="501.5" cy="153.4" r="1.23"/><circle cx="504.5" cy="152.6" r="0.91"/><circle cx="505.6" cy="152.6" r="1.02"/><circle cx="506.5" cy="152.2" r="0.96"/><circle cx="507.2" cy="151.8" r="1.36"/><circle cx="508.4" cy="152.8" r="1.10"/><circle cx="509.5" cy="153.0" r="1.13"/><circle cx="510.4" cy="153.6" r="1.34"/><circle cx="510.9" cy="153.8" r="1.38"/><circle cx="512.3" cy="154.2" r="1.16"/><circle cx="513.9" cy="154.7" r="1.21"/><circle cx="514.8" cy="155.0" r="1.27"/><circle cx="516.4" cy="155.0" r="0.99"/></g><g fill="#38c8d8" filter="url(#b05)"><circle cx="494.4" cy="146.5" r="0.63"/><circle cx="495.7" cy="149.1" r="0.77"/><circle cx="496.4" cy="150.0" r="0.61"/><circle cx="496.4" cy="151.4" r="0.78"/><circle cx="497.3" cy="151.5" r="0.55"/><circle cx="499.9" cy="152.7" r="0.79"/><circle cx="504.0" cy="152.5" r="0.68"/><circle cx="512.2" cy="154.1" r="0.74"/><circle cx="515.1" cy="155.0" r="0.59"/></g>
<g fill="#1466cc" filter="url(#b05)"><circle cx="484.0" cy="151.3" r="1.73"/><circle cx="485.2" cy="151.8" r="1.49"/><circle cx="485.7" cy="152.5" r="1.19"/><circle cx="487.1" cy="152.3" r="1.33"/><circle cx="487.7" cy="152.8" r="1.45"/></g><g fill="#1a96e6" filter="url(#b05)"><circle cx="483.9" cy="151.2" r="1.13"/><circle cx="485.6" cy="152.2" r="0.96"/><circle cx="486.7" cy="152.8" r="1.04"/><circle cx="488.2" cy="152.9" r="1.04"/></g><g fill="#38c8d8" filter="url(#b05)"><circle cx="483.8" cy="150.8" r="0.74"/><circle cx="485.2" cy="151.2" r="0.66"/><circle cx="487.8" cy="152.8" r="0.55"/></g>
<g fill="#1466cc" filter="url(#b05)"><circle cx="491.8" cy="155.0" r="1.26"/><circle cx="493.8" cy="155.2" r="1.45"/><circle cx="494.9" cy="155.1" r="1.72"/><circle cx="496.6" cy="155.7" r="1.54"/><circle cx="497.3" cy="156.3" r="1.34"/><circle cx="498.5" cy="156.3" r="1.34"/><circle cx="499.3" cy="156.2" r="1.18"/><circle cx="500.6" cy="156.5" r="1.73"/><circle cx="501.6" cy="157.1" r="1.78"/><circle cx="502.2" cy="157.6" r="1.78"/><circle cx="503.2" cy="157.8" r="1.47"/></g><g fill="#1a96e6" filter="url(#b05)"><circle cx="492.1" cy="154.9" r="1.03"/><circle cx="493.1" cy="155.4" r="1.21"/><circle cx="493.9" cy="155.0" r="1.00"/><circle cx="494.5" cy="155.4" r="1.06"/><circle cx="495.6" cy="155.4" r="1.27"/><circle cx="496.8" cy="156.0" r="0.96"/><circle cx="497.6" cy="155.8" r="1.25"/><circle cx="498.4" cy="156.0" r="0.90"/><circle cx="499.2" cy="156.4" r="1.10"/><circle cx="500.7" cy="156.8" r="1.20"/><circle cx="501.3" cy="157.4" r="1.03"/><circle cx="502.8" cy="157.8" r="1.09"/><circle cx="503.8" cy="157.6" r="0.89"/></g><g fill="#38c8d8" filter="url(#b05)"><circle cx="491.5" cy="155.2" r="0.52"/><circle cx="493.9" cy="155.1" r="0.54"/><circle cx="494.5" cy="155.1" r="0.70"/><circle cx="497.3" cy="156.2" r="0.65"/><circle cx="499.1" cy="156.0" r="0.57"/><circle cx="502.4" cy="157.9" r="0.52"/><circle cx="503.7" cy="157.7" r="0.66"/></g>
<g fill="#1466cc" filter="url(#b05)"><circle cx="467.2" cy="145.1" r="1.40"/><circle cx="466.8" cy="146.0" r="1.48"/><circle cx="466.3" cy="147.1" r="1.27"/><circle cx="466.5" cy="147.8" r="1.48"/><circle cx="466.4" cy="148.7" r="1.16"/><circle cx="465.9" cy="150.2" r="1.64"/><circle cx="466.7" cy="150.4" r="1.52"/><circle cx="467.2" cy="151.3" r="1.23"/><circle cx="467.5" cy="152.4" r="1.29"/></g><g fill="#1a96e6" filter="url(#b05)"><circle cx="466.9" cy="144.9" r="1.19"/><circle cx="466.6" cy="146.2" r="0.80"/><circle cx="466.6" cy="147.0" r="0.79"/><circle cx="466.3" cy="147.6" r="0.83"/><circle cx="466.3" cy="148.8" r="1.04"/><circle cx="466.5" cy="151.0" r="0.86"/><circle cx="467.6" cy="151.9" r="1.09"/><circle cx="468.2" cy="152.7" r="0.96"/></g><g fill="#38c8d8" filter="url(#b05)"><circle cx="467.0" cy="145.9" r="0.60"/><circle cx="466.7" cy="147.0" r="0.65"/><circle cx="465.9" cy="148.8" r="0.51"/><circle cx="466.4" cy="149.9" r="0.67"/><circle cx="466.4" cy="150.6" r="0.59"/><circle cx="466.9" cy="151.4" r="0.57"/><circle cx="468.2" cy="152.6" r="0.56"/></g>
<g fill="#1466cc" filter="url(#b05)"><circle cx="479.3" cy="148.7" r="1.38"/><circle cx="479.8" cy="149.3" r="1.86"/><circle cx="481.4" cy="149.4" r="1.91"/><circle cx="482.0" cy="150.2" r="1.58"/><circle cx="482.8" cy="150.2" r="1.66"/><circle cx="484.2" cy="150.9" r="1.63"/><circle cx="485.0" cy="151.2" r="1.47"/><circle cx="486.0" cy="151.5" r="1.47"/></g><g fill="#1a96e6" filter="url(#b05)"><circle cx="478.6" cy="149.1" r="1.04"/><circle cx="479.5" cy="149.1" r="1.18"/><circle cx="481.3" cy="150.0" r="1.08"/><circle cx="482.1" cy="150.3" r="1.08"/><circle cx="483.2" cy="150.3" r="1.10"/><circle cx="484.4" cy="150.8" r="1.08"/><circle cx="485.3" cy="150.9" r="0.91"/><circle cx="486.2" cy="151.5" r="1.01"/></g><g fill="#38c8d8" filter="url(#b05)"><circle cx="480.1" cy="149.1" r="0.64"/></g>
<g fill="#1a70d0" filter="url(#b05)"><circle cx="470.0" cy="131.5" r="0.83"/><circle cx="470.3" cy="130.8" r="1.01"/><circle cx="471.8" cy="130.7" r="0.96"/><circle cx="472.8" cy="130.0" r="1.04"/><circle cx="473.8" cy="130.0" r="0.98"/></g>
<g fill="#1aa8f0" filter="url(#b05)"><circle cx="466.1" cy="158.7" r="4.35"/><circle cx="466.7" cy="157.4" r="4.13"/><circle cx="467.5" cy="156.7" r="4.58"/><circle cx="468.0" cy="155.7" r="3.76"/><circle cx="468.3" cy="154.4" r="4.23"/><circle cx="468.7" cy="154.3" r="4.45"/><circle cx="469.0" cy="153.2" r="3.71"/><circle cx="469.4" cy="152.1" r="4.72"/><circle cx="470.4" cy="151.3" r="3.60"/><circle cx="470.5" cy="151.1" r="3.83"/><circle cx="470.9" cy="149.8" r="4.54"/><circle cx="471.4" cy="149.2" r="4.88"/><circle cx="472.3" cy="148.9" r="3.82"/><circle cx="472.7" cy="147.5" r="5.25"/><circle cx="472.9" cy="147.0" r="3.88"/><circle cx="473.7" cy="145.9" r="4.70"/><circle cx="474.2" cy="145.2" r="4.89"/><circle cx="475.2" cy="145.0" r="5.77"/><circle cx="475.7" cy="144.1" r="4.67"/><circle cx="476.3" cy="143.0" r="3.91"/><circle cx="477.2" cy="142.4" r="4.96"/><circle cx="477.8" cy="141.5" r="4.33"/><circle cx="478.2" cy="140.9" r="5.34"/><circle cx="479.2" cy="140.4" r="3.94"/><circle cx="479.3" cy="139.9" r="4.45"/><circle cx="479.7" cy="139.5" r="4.17"/><circle cx="480.9" cy="138.3" r="4.99"/><circle cx="481.8" cy="137.6" r="4.91"/><circle cx="481.8" cy="137.3" r="4.68"/><circle cx="483.0" cy="136.5" r="4.74"/><circle cx="483.3" cy="135.6" r="5.49"/><circle cx="484.2" cy="135.8" r="5.44"/><circle cx="484.6" cy="135.3" r="5.64"/><circle cx="485.4" cy="134.6" r="5.01"/><circle cx="485.8" cy="133.7" r="4.88"/><circle cx="486.9" cy="133.7" r="3.84"/><circle cx="487.4" cy="132.8" r="4.32"/><circle cx="488.5" cy="132.6" r="4.34"/><circle cx="488.8" cy="131.5" r="4.82"/><circle cx="490.0" cy="131.1" r="5.62"/><circle cx="491.2" cy="130.6" r="3.72"/><circle cx="492.0" cy="130.3" r="5.32"/><circle cx="492.8" cy="129.0" r="5.22"/><circle cx="492.9" cy="128.7" r="4.68"/><circle cx="494.0" cy="128.0" r="4.08"/><circle cx="495.1" cy="127.8" r="3.41"/><circle cx="495.7" cy="127.3" r="3.34"/><circle cx="497.2" cy="126.8" r="4.26"/><circle cx="498.0" cy="125.5" r="4.01"/><circle cx="498.5" cy="125.6" r="3.83"/><circle cx="499.5" cy="125.1" r="3.62"/><circle cx="499.8" cy="124.6" r="2.60"/></g><g fill="#30d8b0" filter="url(#b05)"><circle cx="466.5" cy="158.3" r="3.33"/><circle cx="467.4" cy="157.7" r="3.48"/><circle cx="467.6" cy="156.3" r="2.90"/><circle cx="467.8" cy="156.2" r="3.28"/><circle cx="468.5" cy="155.1" r="2.86"/><circle cx="468.9" cy="153.9" r="4.14"/><circle cx="468.9" cy="152.9" r="2.90"/><circle cx="469.2" cy="152.0" r="2.96"/><circle cx="470.5" cy="151.3" r="3.64"/><circle cx="470.7" cy="150.6" r="2.98"/><circle cx="471.5" cy="149.8" r="3.39"/><circle cx="471.4" cy="148.8" r="4.55"/><circle cx="472.1" cy="148.1" r="4.05"/><circle cx="472.3" cy="147.3" r="3.70"/><circle cx="472.6" cy="146.8" r="3.93"/><circle cx="473.6" cy="146.0" r="4.48"/><circle cx="474.7" cy="145.8" r="3.88"/><circle cx="475.1" cy="144.7" r="3.71"/><circle cx="475.5" cy="144.1" r="3.46"/><circle cx="476.2" cy="143.3" r="3.45"/><circle cx="476.4" cy="143.0" r="4.83"/><circle cx="477.1" cy="142.0" r="4.65"/><circle cx="478.4" cy="141.3" r="4.28"/><circle cx="478.6" cy="140.1" r="4.99"/><circle cx="479.1" cy="140.3" r="4.39"/><circle cx="480.0" cy="139.5" r="4.78"/><circle cx="481.0" cy="138.7" r="3.87"/><circle cx="481.4" cy="137.9" r="3.48"/><circle cx="482.0" cy="137.3" r="4.86"/><circle cx="482.3" cy="136.4" r="4.46"/><circle cx="483.0" cy="136.3" r="4.49"/><circle cx="484.5" cy="135.5" r="4.69"/><circle cx="484.9" cy="135.0" r="4.35"/><circle cx="485.8" cy="134.2" r="4.54"/><circle cx="486.0" cy="133.6" r="4.31"/><circle cx="487.5" cy="133.3" r="4.64"/><circle cx="487.9" cy="132.7" r="3.67"/><circle cx="488.6" cy="131.8" r="4.31"/><circle cx="489.6" cy="131.3" r="3.67"/><circle cx="489.8" cy="130.7" r="4.44"/><circle cx="490.9" cy="130.4" r="3.73"/><circle cx="491.7" cy="130.0" r="3.53"/><circle cx="492.2" cy="129.5" r="3.87"/><circle cx="493.0" cy="129.2" r="3.41"/><circle cx="493.8" cy="127.9" r="3.75"/><circle cx="495.0" cy="127.1" r="4.13"/><circle cx="495.6" cy="127.2" r="3.57"/><circle cx="496.4" cy="126.2" r="3.50"/><circle cx="497.6" cy="125.9" r="3.77"/><circle cx="498.2" cy="125.0" r="2.49"/><circle cx="499.1" cy="125.3" r="2.65"/><circle cx="499.8" cy="124.6" r="3.20"/></g><g fill="#90f040" filter="url(#b05)"><circle cx="466.1" cy="159.0" r="2.83"/><circle cx="467.0" cy="157.0" r="2.96"/><circle cx="468.1" cy="155.6" r="2.91"/><circle cx="467.7" cy="154.5" r="3.03"/><circle cx="468.2" cy="153.6" r="3.46"/><circle cx="469.5" cy="152.5" r="3.28"/><circle cx="469.2" cy="152.4" r="3.09"/><circle cx="469.7" cy="151.3" r="2.69"/><circle cx="470.7" cy="150.3" r="2.94"/><circle cx="470.9" cy="149.6" r="3.72"/><circle cx="471.1" cy="149.6" r="3.66"/><circle cx="472.4" cy="148.7" r="3.54"/><circle cx="472.9" cy="148.1" r="2.79"/><circle cx="473.2" cy="146.7" r="3.38"/><circle cx="474.0" cy="146.1" r="2.95"/><circle cx="474.5" cy="145.2" r="3.94"/><circle cx="475.3" cy="144.4" r="3.30"/><circle cx="475.4" cy="144.1" r="2.71"/><circle cx="475.9" cy="143.1" r="3.01"/><circle cx="477.0" cy="142.1" r="3.86"/><circle cx="477.7" cy="141.9" r="4.06"/><circle cx="478.0" cy="141.2" r="3.13"/><circle cx="479.1" cy="140.0" r="3.98"/><circle cx="480.0" cy="139.4" r="3.65"/><circle cx="480.9" cy="138.4" r="3.55"/><circle cx="481.8" cy="138.0" r="2.86"/><circle cx="482.2" cy="137.0" r="3.79"/><circle cx="483.7" cy="136.6" r="4.09"/><circle cx="484.5" cy="135.0" r="4.09"/><circle cx="485.3" cy="134.5" r="3.41"/><circle cx="486.0" cy="133.6" r="3.01"/><circle cx="488.0" cy="132.5" r="3.06"/><circle cx="488.7" cy="132.4" r="3.80"/><circle cx="488.9" cy="131.6" r="3.19"/><circle cx="489.7" cy="130.6" r="3.41"/><circle cx="490.5" cy="130.1" r="3.90"/><circle cx="492.0" cy="129.5" r="2.64"/><circle cx="493.1" cy="128.5" r="2.53"/><circle cx="494.4" cy="128.1" r="3.57"/><circle cx="495.1" cy="127.7" r="3.38"/><circle cx="495.6" cy="127.4" r="3.33"/><circle cx="496.6" cy="126.3" r="2.20"/><circle cx="497.7" cy="126.2" r="2.69"/><circle cx="498.4" cy="125.2" r="2.01"/><circle cx="499.8" cy="124.4" r="2.47"/><circle cx="500.6" cy="124.4" r="2.63"/></g><g fill="#f0e020" filter="url(#b05)"><circle cx="466.6" cy="157.3" r="2.06"/><circle cx="467.0" cy="156.6" r="2.37"/><circle cx="467.4" cy="156.0" r="2.08"/><circle cx="468.5" cy="155.2" r="1.95"/><circle cx="468.5" cy="154.0" r="2.65"/><circle cx="469.3" cy="152.7" r="2.29"/><circle cx="469.5" cy="152.0" r="2.02"/><circle cx="469.8" cy="151.0" r="2.74"/><circle cx="471.4" cy="149.9" r="2.68"/><circle cx="471.3" cy="149.3" r="2.38"/><circle cx="472.0" cy="148.1" r="2.45"/><circle cx="473.4" cy="146.6" r="2.68"/><circle cx="473.8" cy="146.6" r="2.29"/><circle cx="473.9" cy="145.6" r="2.48"/><circle cx="475.1" cy="144.3" r="3.09"/><circle cx="475.9" cy="143.1" r="3.19"/><circle cx="476.9" cy="142.6" r="2.29"/><circle cx="477.2" cy="141.3" r="2.91"/><circle cx="477.9" cy="140.7" r="2.97"/><circle cx="478.8" cy="140.5" r="2.67"/><circle cx="479.8" cy="139.8" r="2.93"/><circle cx="480.0" cy="139.2" r="2.48"/><circle cx="480.7" cy="138.3" r="3.09"/><circle cx="480.8" cy="137.8" r="2.61"/><circle cx="482.2" cy="137.0" r="2.88"/><circle cx="482.4" cy="137.2" r="2.19"/><circle cx="483.6" cy="135.9" r="3.09"/><circle cx="484.5" cy="135.9" r="3.05"/><circle cx="484.9" cy="134.9" r="2.23"/><circle cx="485.9" cy="134.6" r="3.21"/><circle cx="486.6" cy="133.5" r="2.14"/><circle cx="486.6" cy="133.2" r="2.27"/><circle cx="487.5" cy="133.0" r="3.06"/><circle cx="488.1" cy="132.4" r="2.78"/><circle cx="489.2" cy="131.5" r="3.12"/><circle cx="490.3" cy="131.2" r="2.99"/><circle cx="490.5" cy="130.9" r="2.78"/><circle cx="491.5" cy="129.9" r="2.47"/><circle cx="492.4" cy="129.3" r="2.38"/><circle cx="492.9" cy="128.5" r="2.07"/><circle cx="495.1" cy="127.9" r="2.43"/><circle cx="495.4" cy="126.8" r="2.20"/><circle cx="497.7" cy="126.3" r="2.39"/><circle cx="498.2" cy="125.3" r="2.26"/><circle cx="499.0" cy="124.5" r="1.93"/><circle cx="500.3" cy="124.6" r="1.56"/></g><g fill="#f87010" filter="url(#b05)"><circle cx="467.4" cy="157.7" r="1.42"/><circle cx="467.3" cy="156.0" r="1.56"/><circle cx="468.5" cy="154.7" r="1.30"/><circle cx="468.9" cy="154.1" r="1.97"/><circle cx="469.4" cy="153.4" r="1.36"/><circle cx="469.5" cy="152.1" r="1.35"/><circle cx="470.2" cy="151.2" r="1.84"/><circle cx="470.3" cy="150.5" r="1.54"/><circle cx="470.6" cy="149.6" r="1.64"/><circle cx="472.7" cy="147.5" r="1.63"/><circle cx="473.2" cy="147.4" r="1.67"/><circle cx="473.1" cy="146.4" r="1.52"/><circle cx="474.1" cy="145.1" r="1.74"/><circle cx="475.1" cy="145.2" r="1.95"/><circle cx="475.2" cy="144.4" r="2.25"/><circle cx="476.1" cy="143.2" r="1.60"/><circle cx="476.9" cy="142.6" r="1.90"/><circle cx="477.1" cy="141.7" r="2.11"/><circle cx="477.7" cy="140.7" r="2.06"/><circle cx="478.7" cy="140.8" r="1.79"/><circle cx="480.4" cy="139.6" r="1.57"/><circle cx="480.3" cy="138.7" r="1.81"/><circle cx="481.5" cy="138.4" r="1.82"/><circle cx="482.2" cy="137.1" r="1.79"/><circle cx="483.2" cy="135.9" r="2.08"/><circle cx="484.0" cy="135.5" r="1.87"/><circle cx="484.3" cy="135.0" r="2.24"/><circle cx="485.3" cy="134.0" r="2.17"/><circle cx="486.1" cy="134.1" r="1.75"/><circle cx="486.6" cy="133.0" r="2.01"/><circle cx="487.8" cy="132.4" r="2.05"/><circle cx="488.6" cy="132.2" r="2.11"/><circle cx="489.5" cy="131.1" r="2.18"/><circle cx="490.5" cy="131.4" r="2.00"/><circle cx="491.5" cy="130.3" r="1.98"/><circle cx="492.1" cy="129.1" r="1.66"/><circle cx="494.0" cy="128.3" r="1.82"/><circle cx="494.6" cy="127.0" r="1.60"/><circle cx="496.1" cy="126.5" r="1.94"/><circle cx="498.7" cy="125.5" r="1.20"/><circle cx="499.0" cy="124.6" r="1.22"/><circle cx="500.5" cy="124.2" r="1.39"/></g><g fill="#d81808" filter="url(#b05)"><circle cx="466.3" cy="158.4" r="1.10"/><circle cx="467.5" cy="156.4" r="1.24"/><circle cx="467.5" cy="155.9" r="0.94"/><circle cx="468.7" cy="155.2" r="1.10"/><circle cx="469.1" cy="153.5" r="1.20"/><circle cx="470.0" cy="152.5" r="1.20"/><circle cx="470.3" cy="151.5" r="1.33"/><circle cx="470.9" cy="151.1" r="1.07"/><circle cx="470.7" cy="149.9" r="1.14"/><circle cx="471.1" cy="149.5" r="1.19"/><circle cx="472.8" cy="148.2" r="1.21"/><circle cx="472.6" cy="147.1" r="1.09"/><circle cx="473.2" cy="146.1" r="1.10"/><circle cx="473.9" cy="145.8" r="1.57"/><circle cx="474.9" cy="145.0" r="1.52"/><circle cx="475.4" cy="144.2" r="1.24"/><circle cx="476.8" cy="142.8" r="1.61"/><circle cx="478.1" cy="141.4" r="1.59"/><circle cx="478.6" cy="140.3" r="1.48"/><circle cx="479.6" cy="140.2" r="1.19"/><circle cx="479.5" cy="139.6" r="1.28"/><circle cx="482.2" cy="137.5" r="1.28"/><circle cx="482.8" cy="136.5" r="1.28"/><circle cx="484.3" cy="135.1" r="1.09"/><circle cx="484.3" cy="134.6" r="1.49"/><circle cx="485.9" cy="133.6" r="1.20"/><circle cx="487.0" cy="133.4" r="1.11"/><circle cx="488.2" cy="132.8" r="1.28"/><circle cx="488.9" cy="131.7" r="1.46"/><circle cx="492.8" cy="128.9" r="1.13"/><circle cx="493.4" cy="129.0" r="1.11"/><circle cx="494.1" cy="128.5" r="1.07"/><circle cx="494.6" cy="127.4" r="0.95"/><circle cx="495.6" cy="126.9" r="1.10"/><circle cx="497.9" cy="125.9" r="0.93"/><circle cx="499.4" cy="124.7" r="0.94"/></g>
<g fill="#1aa8f0" filter="url(#b05)"><circle cx="499.0" cy="125.0" r="2.68"/><circle cx="499.6" cy="124.1" r="3.04"/><circle cx="500.4" cy="124.1" r="1.99"/><circle cx="500.8" cy="123.3" r="2.61"/><circle cx="501.6" cy="122.0" r="2.11"/><circle cx="503.1" cy="121.6" r="1.81"/></g><g fill="#40d8c0" filter="url(#b05)"><circle cx="498.7" cy="125.1" r="2.07"/><circle cx="499.8" cy="124.1" r="1.62"/><circle cx="500.4" cy="123.3" r="1.77"/><circle cx="500.6" cy="123.1" r="1.77"/><circle cx="502.1" cy="122.2" r="1.65"/><circle cx="502.8" cy="121.6" r="1.71"/></g>
</g>
<rect x="499" y="104.8" width="13.7" height="1.8" fill="#fff"/>
<text x="494.6" y="116.4" font-size="8.4" font-weight="bold" fill="#fff" textLength="19.8" lengthAdjust="spacingAndGlyphs" font-family="'Liberation Sans', sans-serif">40μm</text>
<rect x="393.3" y="125.6" width="5.8" height="5.6" fill="none" stroke="#d8609e" stroke-width="1.7"/>
<rect x="419.1" y="132.7" width="5.8" height="4.9" fill="none" stroke="#1a6ec0" stroke-width="1.7"/>
<text x="395.6" y="145.2" font-size="10" font-weight="bold" font-family="'Liberation Sans', sans-serif">P2</text>
<text x="422.8" y="149" font-size="10" font-weight="bold" font-family="'Liberation Sans', sans-serif">P1</text>
<text transform="translate(529.6,131.8) rotate(-90)" font-size="8.2" font-weight="bold" text-anchor="middle" font-family="'Liberation Sans', sans-serif">TPIOF</text>
<text x="408.6" y="202.7" font-size="9.8" font-weight="bold" textLength="37.4" lengthAdjust="spacingAndGlyphs" font-family="'Liberation Sans', sans-serif">Velocity</text>
<text x="452.6" y="202.7" font-size="9.8" font-weight="bold" textLength="57.4" lengthAdjust="spacingAndGlyphs" font-family="'Liberation Sans', sans-serif">at P1 and P2</text>
<rect x="394.9" y="210.3" width="124.2" height="59.4" fill="#93b7d8" stroke="#1f78c4" stroke-width="2"/>
<rect x="395.9" y="211.3" width="122.2" height="30.2" fill="#ead7c3"/>
<rect x="395.9" y="241.5" width="122.2" height="3.3" fill="#fdfcf8"/>
<line x1="408.4" y1="212.0" x2="403.4" y2="228.0" stroke="#e060b0" stroke-width="0.85"/>
<circle cx="403.4" cy="228.0" r="0.8" fill="#e060b0"/>
<line x1="413.9" y1="212.0" x2="404.0" y2="239.6" stroke="#e060b0" stroke-width="0.85"/>
<circle cx="404.0" cy="239.6" r="0.8" fill="#e060b0"/>
<line x1="417.0" y1="212.0" x2="409.5" y2="230.5" stroke="#e060b0" stroke-width="0.85"/>
<circle cx="409.5" cy="230.5" r="0.8" fill="#e060b0"/>
<line x1="425.0" y1="212.0" x2="418.7" y2="223.9" stroke="#e060b0" stroke-width="0.85"/>
<circle cx="418.7" cy="223.9" r="0.8" fill="#e060b0"/>
<line x1="429.5" y1="212.0" x2="423.4" y2="220.3" stroke="#e060b0" stroke-width="0.85"/>
<circle cx="423.4" cy="220.3" r="0.8" fill="#e060b0"/>
<line x1="434.5" y1="212.0" x2="428.7" y2="222.7" stroke="#e060b0" stroke-width="0.85"/>
<circle cx="428.7" cy="222.7" r="0.8" fill="#e060b0"/>
<line x1="440.0" y1="212.0" x2="434.3" y2="222.5" stroke="#e060b0" stroke-width="0.85"/>
<circle cx="434.3" cy="222.5" r="0.8" fill="#e060b0"/>
<line x1="445.0" y1="212.0" x2="439.4" y2="221.7" stroke="#e060b0" stroke-width="0.85"/>
<circle cx="439.4" cy="221.7" r="0.8" fill="#e060b0"/>
<line x1="450.5" y1="212.0" x2="445.2" y2="221.0" stroke="#e060b0" stroke-width="0.85"/>
<circle cx="445.2" cy="221.0" r="0.8" fill="#e060b0"/>
<line x1="457.0" y1="212.0" x2="452.2" y2="220.3" stroke="#e060b0" stroke-width="0.85"/>
<circle cx="452.2" cy="220.3" r="0.8" fill="#e060b0"/>
<line x1="462.0" y1="212.0" x2="459.0" y2="223.2" stroke="#e060b0" stroke-width="0.85"/>
<circle cx="459.0" cy="223.2" r="0.8" fill="#e060b0"/>
<line x1="467.4" y1="212.3" x2="463.4" y2="223.2" stroke="#e060b0" stroke-width="0.85"/>
<circle cx="463.4" cy="223.2" r="0.8" fill="#e060b0"/>
<line x1="472.3" y1="212.3" x2="467.0" y2="222.5" stroke="#e060b0" stroke-width="0.85"/>
<circle cx="467.0" cy="222.5" r="0.8" fill="#e060b0"/>
<line x1="477.7" y1="212.3" x2="471.7" y2="227.4" stroke="#e060b0" stroke-width="0.85"/>
<circle cx="471.7" cy="227.4" r="0.8" fill="#e060b0"/>
<line x1="483.1" y1="212.3" x2="476.5" y2="234.6" stroke="#e060b0" stroke-width="0.85"/>
<circle cx="476.5" cy="234.6" r="0.8" fill="#e060b0"/>
<line x1="488.6" y1="212.3" x2="478.3" y2="232.2" stroke="#e060b0" stroke-width="0.85"/>
<circle cx="478.3" cy="232.2" r="0.8" fill="#e060b0"/>
<line x1="494.0" y1="212.3" x2="477.5" y2="234.0" stroke="#e060b0" stroke-width="0.85"/>
<circle cx="477.5" cy="234.0" r="0.8" fill="#e060b0"/>
<line x1="498.9" y1="212.3" x2="480.0" y2="229.0" stroke="#e060b0" stroke-width="0.85"/>
<circle cx="480.0" cy="229.0" r="0.8" fill="#e060b0"/>
<line x1="504.9" y1="212.3" x2="494.0" y2="226.2" stroke="#e060b0" stroke-width="0.85"/>
<circle cx="494.0" cy="226.2" r="0.8" fill="#e060b0"/>
<line x1="510.3" y1="212.3" x2="499.5" y2="231.0" stroke="#e060b0" stroke-width="0.85"/>
<circle cx="499.5" cy="231.0" r="0.8" fill="#e060b0"/>
<line x1="405.1" y1="245.2" x2="400.4" y2="259.7" stroke="#e060b0" stroke-width="0.85"/>
<circle cx="400.4" cy="259.7" r="0.8" fill="#e060b0"/>
<line x1="410.2" y1="245.2" x2="401.7" y2="269.0" stroke="#e060b0" stroke-width="0.85"/>
<circle cx="401.7" cy="269.0" r="0.8" fill="#e060b0"/>
<line x1="415.3" y1="245.2" x2="407.2" y2="264.2" stroke="#e060b0" stroke-width="0.85"/>
<circle cx="407.2" cy="264.2" r="0.8" fill="#e060b0"/>
<line x1="420.7" y1="245.2" x2="413.6" y2="257.8" stroke="#e060b0" stroke-width="0.85"/>
<circle cx="413.6" cy="257.8" r="0.8" fill="#e060b0"/>
<line x1="426.1" y1="245.2" x2="420.0" y2="255.3" stroke="#e060b0" stroke-width="0.85"/>
<circle cx="420.0" cy="255.3" r="0.8" fill="#e060b0"/>
<line x1="431.2" y1="245.2" x2="425.4" y2="255.3" stroke="#e060b0" stroke-width="0.85"/>
<circle cx="425.4" cy="255.3" r="0.8" fill="#e060b0"/>
<line x1="436.3" y1="245.2" x2="430.5" y2="255.3" stroke="#e060b0" stroke-width="0.85"/>
<circle cx="430.5" cy="255.3" r="0.8" fill="#e060b0"/>
<line x1="442.0" y1="245.2" x2="436.3" y2="254.6" stroke="#e060b0" stroke-width="0.85"/>
<circle cx="436.3" cy="254.6" r="0.8" fill="#e060b0"/>
<line x1="447.1" y1="245.2" x2="441.3" y2="254.0" stroke="#e060b0" stroke-width="0.85"/>
<circle cx="441.3" cy="254.0" r="0.8" fill="#e060b0"/>
<line x1="452.2" y1="245.2" x2="447.7" y2="254.0" stroke="#e060b0" stroke-width="0.85"/>
<circle cx="447.7" cy="254.0" r="0.8" fill="#e060b0"/>
<line x1="457.9" y1="245.2" x2="453.4" y2="255.0" stroke="#e060b0" stroke-width="0.85"/>
<circle cx="453.4" cy="255.0" r="0.8" fill="#e060b0"/>
<line x1="463.0" y1="245.2" x2="458.5" y2="255.3" stroke="#e060b0" stroke-width="0.85"/>
<circle cx="458.5" cy="255.3" r="0.8" fill="#e060b0"/>
<line x1="468.0" y1="245.2" x2="463.0" y2="255.0" stroke="#e060b0" stroke-width="0.85"/>
<circle cx="463.0" cy="255.0" r="0.8" fill="#e060b0"/>
<line x1="473.0" y1="245.2" x2="468.0" y2="256.0" stroke="#e060b0" stroke-width="0.85"/>
<circle cx="468.0" cy="256.0" r="0.8" fill="#e060b0"/>
<line x1="478.0" y1="245.2" x2="471.0" y2="262.0" stroke="#e060b0" stroke-width="0.85"/>
<circle cx="471.0" cy="262.0" r="0.8" fill="#e060b0"/>
<line x1="483.0" y1="245.2" x2="474.0" y2="266.0" stroke="#e060b0" stroke-width="0.85"/>
<circle cx="474.0" cy="266.0" r="0.8" fill="#e060b0"/>
<line x1="488.0" y1="245.2" x2="481.0" y2="260.0" stroke="#e060b0" stroke-width="0.85"/>
<circle cx="481.0" cy="260.0" r="0.8" fill="#e060b0"/>
<line x1="493.0" y1="245.2" x2="487.0" y2="258.0" stroke="#e060b0" stroke-width="0.85"/>
<circle cx="487.0" cy="258.0" r="0.8" fill="#e060b0"/>
<line x1="498.0" y1="245.2" x2="492.0" y2="262.0" stroke="#e060b0" stroke-width="0.85"/>
<circle cx="492.0" cy="262.0" r="0.8" fill="#e060b0"/>
<path d="M503.4,252 L503.4,259.3 L508.5,259.3" stroke="#111" stroke-width="0.9" fill="none"/>
<path d="M502.4,253.5 L503.4,251.3 L504.4,253.5 Z M507,258.3 L509.2,259.3 L507,260.3 Z" fill="#111"/>
<text x="496" y="268.2" font-size="6.6" font-weight="bold" font-family="'Liberation Sans', sans-serif">1mm/s</text>
<text x="525" y="246.5" font-size="8.5" font-weight="bold" font-family="'Liberation Sans', sans-serif">P1</text>
<text transform="translate(386.8,221.5) rotate(-90)" font-size="8.2" font-weight="bold" text-anchor="middle" font-family="'Liberation Sans', sans-serif">HSOF</text>
<text transform="translate(386.8,260) rotate(-90)" font-size="8.2" font-weight="bold" text-anchor="middle" font-family="'Liberation Sans', sans-serif">TPIOF</text>
<rect x="394.6" y="273.1" width="124.6" height="74.6" fill="#93b7d8" stroke="#de6ea8" stroke-width="1.8"/>
<rect x="395.5" y="274" width="122.8" height="52.2" fill="#ead7c3"/>
<rect x="395.5" y="326.2" width="122.8" height="3.3" fill="#fdfcf8"/>
<line x1="398.6" y1="284.5" x2="403.5" y2="291.0" stroke="#1a82d0" stroke-width="1.0"/>
<circle cx="403.5" cy="291.0" r="1.0" fill="#1a82d0"/>
<line x1="417.2" y1="287.4" x2="409.1" y2="291.0" stroke="#1a82d0" stroke-width="1.0"/>
<circle cx="409.1" cy="291.0" r="1.0" fill="#1a82d0"/>
<line x1="413.6" y1="292.6" x2="411.5" y2="307.9" stroke="#1a82d0" stroke-width="1.0"/>
<circle cx="411.5" cy="307.9" r="1.0" fill="#1a82d0"/>
<circle cx="418.0" cy="291.0" r="1.0" fill="#1a82d0"/>
<line x1="428.8" y1="275.6" x2="425.3" y2="291.0" stroke="#1a82d0" stroke-width="1.0"/>
<circle cx="425.3" cy="291.0" r="1.0" fill="#1a82d0"/>
<line x1="430.1" y1="292.6" x2="426.0" y2="295.8" stroke="#1a82d0" stroke-width="1.0"/>
<circle cx="426.0" cy="295.8" r="1.0" fill="#1a82d0"/>
<line x1="435.7" y1="292.6" x2="435.7" y2="304.7" stroke="#1a82d0" stroke-width="1.0"/>
<circle cx="435.7" cy="304.7" r="1.0" fill="#1a82d0"/>
<circle cx="439.8" cy="291.0" r="1.0" fill="#1a82d0"/>
<line x1="447.8" y1="291.0" x2="452.7" y2="291.8" stroke="#1a82d0" stroke-width="1.0"/>
<circle cx="452.7" cy="291.8" r="1.0" fill="#1a82d0"/>
<line x1="455.1" y1="278.9" x2="451.0" y2="293.4" stroke="#1a82d0" stroke-width="1.0"/>
<circle cx="451.0" cy="293.4" r="1.0" fill="#1a82d0"/>
<line x1="463.9" y1="274.8" x2="467.6" y2="291.0" stroke="#1a82d0" stroke-width="1.0"/>
<circle cx="467.6" cy="291.0" r="1.0" fill="#1a82d0"/>
<line x1="461.8" y1="292.6" x2="465.5" y2="324.8" stroke="#1a82d0" stroke-width="1.0"/>
<circle cx="465.5" cy="324.8" r="1.0" fill="#1a82d0"/>
<circle cx="473.5" cy="291.0" r="1.0" fill="#1a82d0"/>
<circle cx="477.6" cy="292.6" r="1.0" fill="#1a82d0"/>
<line x1="484.8" y1="282.1" x2="483.2" y2="291.0" stroke="#1a82d0" stroke-width="1.0"/>
<circle cx="483.2" cy="291.0" r="1.0" fill="#1a82d0"/>
<line x1="488.9" y1="292.6" x2="485.6" y2="299.8" stroke="#1a82d0" stroke-width="1.0"/>
<circle cx="485.6" cy="299.8" r="1.0" fill="#1a82d0"/>
<line x1="494.5" y1="277.3" x2="494.5" y2="291.0" stroke="#1a82d0" stroke-width="1.0"/>
<circle cx="494.5" cy="291.0" r="1.0" fill="#1a82d0"/>
<line x1="499.4" y1="292.6" x2="501.0" y2="297.4" stroke="#1a82d0" stroke-width="1.0"/>
<circle cx="501.0" cy="297.4" r="1.0" fill="#1a82d0"/>
<line x1="500.5" y1="281.3" x2="505.0" y2="291.0" stroke="#1a82d0" stroke-width="1.0"/>
<circle cx="505.0" cy="291.0" r="1.0" fill="#1a82d0"/>
<line x1="403.6" y1="337.4" x2="405.0" y2="337.4" stroke="#1a82d0" stroke-width="1.3" stroke-linecap="round"/>
<line x1="406.0" y1="337.6" x2="407.4" y2="337.8" stroke="#1a82d0" stroke-width="1.3" stroke-linecap="round"/>
<line x1="414.3" y1="338.6" x2="414.7" y2="340.9" stroke="#1a82d0" stroke-width="1.3" stroke-linecap="round"/>
<line x1="419.0" y1="337.2" x2="419.8" y2="337.5" stroke="#1a82d0" stroke-width="1.3" stroke-linecap="round"/>
<line x1="423.7" y1="335.0" x2="424.0" y2="335.6" stroke="#1a82d0" stroke-width="1.3" stroke-linecap="round"/>
<line x1="429.6" y1="336.2" x2="430.2" y2="339.2" stroke="#1a82d0" stroke-width="1.3" stroke-linecap="round"/>
<line x1="434.4" y1="338.6" x2="435.2" y2="341.9" stroke="#1a82d0" stroke-width="1.3" stroke-linecap="round"/>
<line x1="441.5" y1="337.4" x2="442.5" y2="340.6" stroke="#1a82d0" stroke-width="1.3" stroke-linecap="round"/>
<line x1="446.6" y1="336.2" x2="448.2" y2="334.0" stroke="#1a82d0" stroke-width="1.3" stroke-linecap="round"/>
<line x1="451.4" y1="334.0" x2="452.6" y2="333.0" stroke="#1a82d0" stroke-width="1.3" stroke-linecap="round"/>
<line x1="456.8" y1="338.6" x2="457.0" y2="342.6" stroke="#1a82d0" stroke-width="1.3" stroke-linecap="round"/>
<line x1="461.6" y1="337.4" x2="461.0" y2="340.6" stroke="#1a82d0" stroke-width="1.3" stroke-linecap="round"/>
<line x1="467.5" y1="338.6" x2="467.7" y2="340.9" stroke="#1a82d0" stroke-width="1.3" stroke-linecap="round"/>
<line x1="472.2" y1="333.8" x2="472.4" y2="336.2" stroke="#1a82d0" stroke-width="1.3" stroke-linecap="round"/>
<line x1="476.9" y1="336.2" x2="477.4" y2="336.4" stroke="#1a82d0" stroke-width="1.3" stroke-linecap="round"/>
<line x1="482.8" y1="337.4" x2="483.2" y2="337.6" stroke="#1a82d0" stroke-width="1.3" stroke-linecap="round"/>
<line x1="488.7" y1="333.8" x2="488.9" y2="336.2" stroke="#1a82d0" stroke-width="1.3" stroke-linecap="round"/>
<line x1="493.5" y1="337.4" x2="494.1" y2="337.0" stroke="#1a82d0" stroke-width="1.3" stroke-linecap="round"/>
<line x1="499.4" y1="332.6" x2="499.7" y2="335.6" stroke="#1a82d0" stroke-width="1.3" stroke-linecap="round"/>
<line x1="505.3" y1="337.4" x2="505.7" y2="337.7" stroke="#1a82d0" stroke-width="1.3" stroke-linecap="round"/>
<line x1="409.5" y1="339.5" x2="409.8" y2="341.3" stroke="#1a82d0" stroke-width="1.3" stroke-linecap="round"/>
<line x1="426.5" y1="338.0" x2="427.0" y2="338.2" stroke="#1a82d0" stroke-width="1.3" stroke-linecap="round"/>
<path d="M500.6,307 L500.6,314.4 L509.5,314.4" stroke="#111" stroke-width="0.9" fill="none"/>
<path d="M499.6,308.5 L500.6,306.3 L501.6,308.5 Z M508,313.4 L510.2,314.4 L508,315.4 Z" fill="#111"/>
<text x="493.8" y="323.8" font-size="6.6" font-weight="bold" font-family="'Liberation Sans', sans-serif">50um/s</text>
<rect x="499.8" y="349.4" width="5.1" height="1.6" fill="#111"/>
<text x="497" y="358.6" font-size="6.6" font-weight="bold" font-family="'Liberation Sans', sans-serif">1ms</text>
<text x="524.6" y="311.5" font-size="8.5" font-weight="bold" font-family="'Liberation Sans', sans-serif">P2</text>
<text transform="translate(386.8,299.2) rotate(-90)" font-size="8.2" font-weight="bold" text-anchor="middle" font-family="'Liberation Sans', sans-serif">HSOF</text>
<text transform="translate(386.8,339.3) rotate(-90)" font-size="8.2" font-weight="bold" text-anchor="middle" font-family="'Liberation Sans', sans-serif">TPIOF</text>
</svg>
</body></html>
